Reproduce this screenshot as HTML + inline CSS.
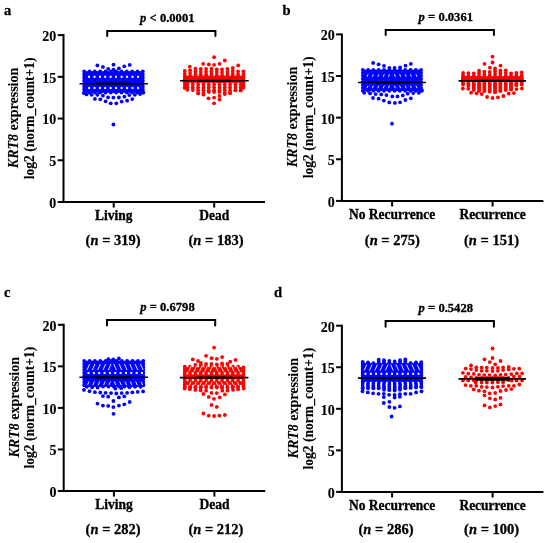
<!DOCTYPE html>
<html><head><meta charset="utf-8"><style>
html,body{margin:0;padding:0;background:#fff;width:550px;height:543px;overflow:hidden}
svg{display:block;will-change:transform}
text{font-family:"Liberation Serif", serif;font-weight:bold;fill:#000;stroke:#000;stroke-width:0}
.tk{stroke-width:0.12px}
.xl{stroke-width:0.3px}
.nl{stroke-width:0.3px}
.yl{stroke-width:0.12px}
.pv{stroke-width:0.3px}
.pl{stroke-width:0.3px}
</style></head><body>
<svg width="550" height="543" viewBox="0 0 550 543">
<rect width="550" height="543" fill="#fff"/>
<g fill="#0000ff"><circle cx="84.20" cy="71.50" r="1.9"/><circle cx="89.53" cy="71.50" r="1.9"/><circle cx="94.85" cy="71.50" r="1.9"/><circle cx="100.18" cy="71.50" r="1.9"/><circle cx="105.51" cy="71.50" r="1.9"/><circle cx="110.84" cy="71.50" r="1.9"/><circle cx="116.16" cy="71.50" r="1.9"/><circle cx="121.49" cy="71.50" r="1.9"/><circle cx="126.82" cy="71.50" r="1.9"/><circle cx="132.15" cy="71.50" r="1.9"/><circle cx="137.47" cy="71.50" r="1.9"/><circle cx="142.80" cy="71.50" r="1.9"/><circle cx="86.87" cy="73.00" r="1.9"/><circle cx="92.19" cy="73.00" r="1.9"/><circle cx="97.52" cy="73.00" r="1.9"/><circle cx="102.85" cy="73.00" r="1.9"/><circle cx="108.17" cy="73.00" r="1.9"/><circle cx="113.50" cy="73.00" r="1.9"/><circle cx="118.83" cy="73.00" r="1.9"/><circle cx="124.15" cy="73.00" r="1.9"/><circle cx="129.48" cy="73.00" r="1.9"/><circle cx="134.81" cy="73.00" r="1.9"/><circle cx="140.14" cy="73.00" r="1.9"/><circle cx="84.20" cy="74.50" r="1.9"/><circle cx="89.53" cy="74.50" r="1.9"/><circle cx="94.85" cy="74.50" r="1.9"/><circle cx="100.18" cy="74.50" r="1.9"/><circle cx="105.51" cy="74.50" r="1.9"/><circle cx="110.84" cy="74.50" r="1.9"/><circle cx="116.16" cy="74.50" r="1.9"/><circle cx="121.49" cy="74.50" r="1.9"/><circle cx="126.82" cy="74.50" r="1.9"/><circle cx="132.15" cy="74.50" r="1.9"/><circle cx="137.47" cy="74.50" r="1.9"/><circle cx="142.80" cy="74.50" r="1.9"/><circle cx="86.87" cy="76.00" r="1.9"/><circle cx="92.19" cy="76.00" r="1.9"/><circle cx="97.52" cy="76.00" r="1.9"/><circle cx="102.85" cy="76.00" r="1.9"/><circle cx="108.17" cy="76.00" r="1.9"/><circle cx="113.50" cy="76.00" r="1.9"/><circle cx="118.83" cy="76.00" r="1.9"/><circle cx="124.15" cy="76.00" r="1.9"/><circle cx="129.48" cy="76.00" r="1.9"/><circle cx="134.81" cy="76.00" r="1.9"/><circle cx="140.14" cy="76.00" r="1.9"/><circle cx="84.20" cy="77.50" r="1.9"/><circle cx="89.53" cy="77.50" r="1.9"/><circle cx="94.85" cy="77.50" r="1.9"/><circle cx="100.18" cy="77.50" r="1.9"/><circle cx="105.51" cy="77.50" r="1.9"/><circle cx="110.84" cy="77.50" r="1.9"/><circle cx="116.16" cy="77.50" r="1.9"/><circle cx="121.49" cy="77.50" r="1.9"/><circle cx="126.82" cy="77.50" r="1.9"/><circle cx="132.15" cy="77.50" r="1.9"/><circle cx="137.47" cy="77.50" r="1.9"/><circle cx="142.80" cy="77.50" r="1.9"/><circle cx="86.87" cy="79.00" r="1.9"/><circle cx="92.19" cy="79.00" r="1.9"/><circle cx="97.52" cy="79.00" r="1.9"/><circle cx="102.85" cy="79.00" r="1.9"/><circle cx="108.17" cy="79.00" r="1.9"/><circle cx="113.50" cy="79.00" r="1.9"/><circle cx="118.83" cy="79.00" r="1.9"/><circle cx="124.15" cy="79.00" r="1.9"/><circle cx="129.48" cy="79.00" r="1.9"/><circle cx="134.81" cy="79.00" r="1.9"/><circle cx="140.14" cy="79.00" r="1.9"/><circle cx="84.20" cy="80.50" r="1.9"/><circle cx="89.53" cy="80.50" r="1.9"/><circle cx="94.85" cy="80.50" r="1.9"/><circle cx="100.18" cy="80.50" r="1.9"/><circle cx="105.51" cy="80.50" r="1.9"/><circle cx="110.84" cy="80.50" r="1.9"/><circle cx="116.16" cy="80.50" r="1.9"/><circle cx="121.49" cy="80.50" r="1.9"/><circle cx="126.82" cy="80.50" r="1.9"/><circle cx="132.15" cy="80.50" r="1.9"/><circle cx="137.47" cy="80.50" r="1.9"/><circle cx="142.80" cy="80.50" r="1.9"/><circle cx="86.87" cy="82.00" r="1.9"/><circle cx="92.19" cy="82.00" r="1.9"/><circle cx="97.52" cy="82.00" r="1.9"/><circle cx="102.85" cy="82.00" r="1.9"/><circle cx="108.17" cy="82.00" r="1.9"/><circle cx="113.50" cy="82.00" r="1.9"/><circle cx="118.83" cy="82.00" r="1.9"/><circle cx="124.15" cy="82.00" r="1.9"/><circle cx="129.48" cy="82.00" r="1.9"/><circle cx="134.81" cy="82.00" r="1.9"/><circle cx="140.14" cy="82.00" r="1.9"/><circle cx="84.20" cy="83.50" r="1.9"/><circle cx="89.53" cy="83.50" r="1.9"/><circle cx="94.85" cy="83.50" r="1.9"/><circle cx="100.18" cy="83.50" r="1.9"/><circle cx="105.51" cy="83.50" r="1.9"/><circle cx="110.84" cy="83.50" r="1.9"/><circle cx="116.16" cy="83.50" r="1.9"/><circle cx="121.49" cy="83.50" r="1.9"/><circle cx="126.82" cy="83.50" r="1.9"/><circle cx="132.15" cy="83.50" r="1.9"/><circle cx="137.47" cy="83.50" r="1.9"/><circle cx="142.80" cy="83.50" r="1.9"/><circle cx="86.87" cy="85.00" r="1.9"/><circle cx="92.19" cy="85.00" r="1.9"/><circle cx="97.52" cy="85.00" r="1.9"/><circle cx="102.85" cy="85.00" r="1.9"/><circle cx="108.17" cy="85.00" r="1.9"/><circle cx="113.50" cy="85.00" r="1.9"/><circle cx="118.83" cy="85.00" r="1.9"/><circle cx="124.15" cy="85.00" r="1.9"/><circle cx="129.48" cy="85.00" r="1.9"/><circle cx="134.81" cy="85.00" r="1.9"/><circle cx="140.14" cy="85.00" r="1.9"/><circle cx="84.20" cy="86.50" r="1.9"/><circle cx="89.53" cy="86.50" r="1.9"/><circle cx="94.85" cy="86.50" r="1.9"/><circle cx="100.18" cy="86.50" r="1.9"/><circle cx="105.51" cy="86.50" r="1.9"/><circle cx="110.84" cy="86.50" r="1.9"/><circle cx="116.16" cy="86.50" r="1.9"/><circle cx="121.49" cy="86.50" r="1.9"/><circle cx="126.82" cy="86.50" r="1.9"/><circle cx="132.15" cy="86.50" r="1.9"/><circle cx="137.47" cy="86.50" r="1.9"/><circle cx="142.80" cy="86.50" r="1.9"/><circle cx="86.87" cy="88.00" r="1.9"/><circle cx="92.19" cy="88.00" r="1.9"/><circle cx="97.52" cy="88.00" r="1.9"/><circle cx="102.85" cy="88.00" r="1.9"/><circle cx="108.17" cy="88.00" r="1.9"/><circle cx="113.50" cy="88.00" r="1.9"/><circle cx="118.83" cy="88.00" r="1.9"/><circle cx="124.15" cy="88.00" r="1.9"/><circle cx="129.48" cy="88.00" r="1.9"/><circle cx="134.81" cy="88.00" r="1.9"/><circle cx="140.14" cy="88.00" r="1.9"/><circle cx="84.20" cy="89.50" r="1.9"/><circle cx="89.53" cy="89.50" r="1.9"/><circle cx="94.85" cy="89.50" r="1.9"/><circle cx="100.18" cy="89.50" r="1.9"/><circle cx="105.51" cy="89.50" r="1.9"/><circle cx="110.84" cy="89.50" r="1.9"/><circle cx="116.16" cy="89.50" r="1.9"/><circle cx="121.49" cy="89.50" r="1.9"/><circle cx="126.82" cy="89.50" r="1.9"/><circle cx="132.15" cy="89.50" r="1.9"/><circle cx="137.47" cy="89.50" r="1.9"/><circle cx="142.80" cy="89.50" r="1.9"/><circle cx="86.87" cy="91.00" r="1.9"/><circle cx="92.19" cy="91.00" r="1.9"/><circle cx="97.52" cy="91.00" r="1.9"/><circle cx="102.85" cy="91.00" r="1.9"/><circle cx="108.17" cy="91.00" r="1.9"/><circle cx="113.50" cy="91.00" r="1.9"/><circle cx="118.83" cy="91.00" r="1.9"/><circle cx="124.15" cy="91.00" r="1.9"/><circle cx="129.48" cy="91.00" r="1.9"/><circle cx="134.81" cy="91.00" r="1.9"/><circle cx="140.14" cy="91.00" r="1.9"/><circle cx="84.20" cy="92.50" r="1.9"/><circle cx="89.53" cy="92.50" r="1.9"/><circle cx="94.85" cy="92.50" r="1.9"/><circle cx="100.18" cy="92.50" r="1.9"/><circle cx="105.51" cy="92.50" r="1.9"/><circle cx="110.84" cy="92.50" r="1.9"/><circle cx="116.16" cy="92.50" r="1.9"/><circle cx="121.49" cy="92.50" r="1.9"/><circle cx="126.82" cy="92.50" r="1.9"/><circle cx="132.15" cy="92.50" r="1.9"/><circle cx="137.47" cy="92.50" r="1.9"/><circle cx="142.80" cy="92.50" r="1.9"/><circle cx="113.50" cy="69.60" r="1.9"/><circle cx="97.40" cy="65.40" r="1.9"/><circle cx="102.90" cy="66.90" r="1.9"/><circle cx="108.20" cy="68.80" r="1.9"/><circle cx="113.50" cy="64.70" r="1.9"/><circle cx="118.90" cy="68.50" r="1.9"/><circle cx="124.30" cy="66.30" r="1.9"/><circle cx="129.70" cy="64.90" r="1.9"/><circle cx="83.90" cy="93.10" r="1.9"/><circle cx="86.50" cy="94.40" r="1.9"/><circle cx="91.70" cy="94.80" r="1.9"/><circle cx="97.30" cy="94.80" r="1.9"/><circle cx="102.90" cy="95.70" r="1.9"/><circle cx="129.30" cy="95.10" r="1.9"/><circle cx="134.90" cy="94.80" r="1.9"/><circle cx="140.10" cy="94.10" r="1.9"/><circle cx="143.40" cy="92.50" r="1.9"/><circle cx="94.90" cy="98.90" r="1.9"/><circle cx="100.30" cy="99.30" r="1.9"/><circle cx="105.60" cy="101.30" r="1.9"/><circle cx="110.70" cy="103.30" r="1.9"/><circle cx="108.10" cy="97.40" r="1.9"/><circle cx="113.40" cy="97.60" r="1.9"/><circle cx="118.90" cy="97.50" r="1.9"/><circle cx="124.40" cy="96.70" r="1.9"/><circle cx="132.30" cy="99.10" r="1.9"/><circle cx="127.10" cy="100.70" r="1.9"/><circle cx="121.70" cy="101.60" r="1.9"/><circle cx="116.30" cy="103.30" r="1.9"/><circle cx="113.40" cy="124.50" r="1.9"/></g>
<g fill="#fff" stroke="#fff" stroke-width="0.9"><rect x="88.60" y="76.20" width="1.0" height="1.2"/><rect x="94.00" y="76.20" width="1.0" height="1.2"/><rect x="99.40" y="76.20" width="1.0" height="1.2"/><rect x="104.70" y="76.20" width="1.0" height="1.2"/><rect x="110.10" y="76.20" width="1.0" height="1.2"/><rect x="115.50" y="76.20" width="1.0" height="1.2"/><rect x="121.10" y="76.20" width="1.0" height="1.2"/><rect x="126.60" y="76.20" width="1.0" height="1.2"/><rect x="132.00" y="76.20" width="1.0" height="1.2"/><rect x="137.50" y="76.20" width="1.0" height="1.2"/><rect x="88.60" y="87.40" width="1.0" height="1.2"/><rect x="94.00" y="87.40" width="1.0" height="1.2"/><rect x="99.40" y="87.40" width="1.0" height="1.2"/><rect x="104.70" y="87.40" width="1.0" height="1.2"/><rect x="110.10" y="87.40" width="1.0" height="1.2"/><rect x="115.50" y="87.40" width="1.0" height="1.2"/><rect x="121.10" y="87.40" width="1.0" height="1.2"/><rect x="126.60" y="87.40" width="1.0" height="1.2"/><rect x="132.00" y="87.40" width="1.0" height="1.2"/><rect x="137.50" y="87.40" width="1.0" height="1.2"/></g>
<g fill="#0000ff"><circle cx="362.80" cy="69.80" r="1.9"/><circle cx="368.10" cy="69.80" r="1.9"/><circle cx="373.40" cy="69.80" r="1.9"/><circle cx="378.70" cy="69.80" r="1.9"/><circle cx="384.00" cy="69.80" r="1.9"/><circle cx="389.30" cy="69.80" r="1.9"/><circle cx="394.60" cy="69.80" r="1.9"/><circle cx="399.90" cy="69.80" r="1.9"/><circle cx="405.20" cy="69.80" r="1.9"/><circle cx="410.50" cy="69.80" r="1.9"/><circle cx="415.80" cy="69.80" r="1.9"/><circle cx="421.10" cy="69.80" r="1.9"/><circle cx="365.47" cy="71.30" r="1.9"/><circle cx="370.76" cy="71.30" r="1.9"/><circle cx="376.06" cy="71.30" r="1.9"/><circle cx="381.36" cy="71.30" r="1.9"/><circle cx="386.65" cy="71.30" r="1.9"/><circle cx="391.95" cy="71.30" r="1.9"/><circle cx="397.25" cy="71.30" r="1.9"/><circle cx="402.54" cy="71.30" r="1.9"/><circle cx="407.84" cy="71.30" r="1.9"/><circle cx="413.14" cy="71.30" r="1.9"/><circle cx="418.44" cy="71.30" r="1.9"/><circle cx="362.80" cy="72.80" r="1.9"/><circle cx="368.10" cy="72.80" r="1.9"/><circle cx="373.40" cy="72.80" r="1.9"/><circle cx="378.70" cy="72.80" r="1.9"/><circle cx="384.00" cy="72.80" r="1.9"/><circle cx="389.30" cy="72.80" r="1.9"/><circle cx="394.60" cy="72.80" r="1.9"/><circle cx="399.90" cy="72.80" r="1.9"/><circle cx="405.20" cy="72.80" r="1.9"/><circle cx="410.50" cy="72.80" r="1.9"/><circle cx="415.80" cy="72.80" r="1.9"/><circle cx="421.10" cy="72.80" r="1.9"/><circle cx="365.47" cy="74.30" r="1.9"/><circle cx="370.76" cy="74.30" r="1.9"/><circle cx="376.06" cy="74.30" r="1.9"/><circle cx="381.36" cy="74.30" r="1.9"/><circle cx="386.65" cy="74.30" r="1.9"/><circle cx="391.95" cy="74.30" r="1.9"/><circle cx="397.25" cy="74.30" r="1.9"/><circle cx="402.54" cy="74.30" r="1.9"/><circle cx="407.84" cy="74.30" r="1.9"/><circle cx="413.14" cy="74.30" r="1.9"/><circle cx="418.44" cy="74.30" r="1.9"/><circle cx="362.80" cy="75.80" r="1.9"/><circle cx="368.10" cy="75.80" r="1.9"/><circle cx="373.40" cy="75.80" r="1.9"/><circle cx="378.70" cy="75.80" r="1.9"/><circle cx="384.00" cy="75.80" r="1.9"/><circle cx="389.30" cy="75.80" r="1.9"/><circle cx="394.60" cy="75.80" r="1.9"/><circle cx="399.90" cy="75.80" r="1.9"/><circle cx="405.20" cy="75.80" r="1.9"/><circle cx="410.50" cy="75.80" r="1.9"/><circle cx="415.80" cy="75.80" r="1.9"/><circle cx="421.10" cy="75.80" r="1.9"/><circle cx="365.47" cy="77.30" r="1.9"/><circle cx="370.76" cy="77.30" r="1.9"/><circle cx="376.06" cy="77.30" r="1.9"/><circle cx="381.36" cy="77.30" r="1.9"/><circle cx="386.65" cy="77.30" r="1.9"/><circle cx="391.95" cy="77.30" r="1.9"/><circle cx="397.25" cy="77.30" r="1.9"/><circle cx="402.54" cy="77.30" r="1.9"/><circle cx="407.84" cy="77.30" r="1.9"/><circle cx="413.14" cy="77.30" r="1.9"/><circle cx="418.44" cy="77.30" r="1.9"/><circle cx="362.80" cy="78.80" r="1.9"/><circle cx="368.10" cy="78.80" r="1.9"/><circle cx="373.40" cy="78.80" r="1.9"/><circle cx="378.70" cy="78.80" r="1.9"/><circle cx="384.00" cy="78.80" r="1.9"/><circle cx="389.30" cy="78.80" r="1.9"/><circle cx="394.60" cy="78.80" r="1.9"/><circle cx="399.90" cy="78.80" r="1.9"/><circle cx="405.20" cy="78.80" r="1.9"/><circle cx="410.50" cy="78.80" r="1.9"/><circle cx="415.80" cy="78.80" r="1.9"/><circle cx="421.10" cy="78.80" r="1.9"/><circle cx="365.47" cy="80.30" r="1.9"/><circle cx="370.76" cy="80.30" r="1.9"/><circle cx="376.06" cy="80.30" r="1.9"/><circle cx="381.36" cy="80.30" r="1.9"/><circle cx="386.65" cy="80.30" r="1.9"/><circle cx="391.95" cy="80.30" r="1.9"/><circle cx="397.25" cy="80.30" r="1.9"/><circle cx="402.54" cy="80.30" r="1.9"/><circle cx="407.84" cy="80.30" r="1.9"/><circle cx="413.14" cy="80.30" r="1.9"/><circle cx="418.44" cy="80.30" r="1.9"/><circle cx="362.80" cy="81.80" r="1.9"/><circle cx="368.10" cy="81.80" r="1.9"/><circle cx="373.40" cy="81.80" r="1.9"/><circle cx="378.70" cy="81.80" r="1.9"/><circle cx="384.00" cy="81.80" r="1.9"/><circle cx="389.30" cy="81.80" r="1.9"/><circle cx="394.60" cy="81.80" r="1.9"/><circle cx="399.90" cy="81.80" r="1.9"/><circle cx="405.20" cy="81.80" r="1.9"/><circle cx="410.50" cy="81.80" r="1.9"/><circle cx="415.80" cy="81.80" r="1.9"/><circle cx="421.10" cy="81.80" r="1.9"/><circle cx="365.47" cy="83.30" r="1.9"/><circle cx="370.76" cy="83.30" r="1.9"/><circle cx="376.06" cy="83.30" r="1.9"/><circle cx="381.36" cy="83.30" r="1.9"/><circle cx="386.65" cy="83.30" r="1.9"/><circle cx="391.95" cy="83.30" r="1.9"/><circle cx="397.25" cy="83.30" r="1.9"/><circle cx="402.54" cy="83.30" r="1.9"/><circle cx="407.84" cy="83.30" r="1.9"/><circle cx="413.14" cy="83.30" r="1.9"/><circle cx="418.44" cy="83.30" r="1.9"/><circle cx="362.80" cy="84.80" r="1.9"/><circle cx="368.10" cy="84.80" r="1.9"/><circle cx="373.40" cy="84.80" r="1.9"/><circle cx="378.70" cy="84.80" r="1.9"/><circle cx="384.00" cy="84.80" r="1.9"/><circle cx="389.30" cy="84.80" r="1.9"/><circle cx="394.60" cy="84.80" r="1.9"/><circle cx="399.90" cy="84.80" r="1.9"/><circle cx="405.20" cy="84.80" r="1.9"/><circle cx="410.50" cy="84.80" r="1.9"/><circle cx="415.80" cy="84.80" r="1.9"/><circle cx="421.10" cy="84.80" r="1.9"/><circle cx="365.47" cy="86.30" r="1.9"/><circle cx="370.76" cy="86.30" r="1.9"/><circle cx="376.06" cy="86.30" r="1.9"/><circle cx="381.36" cy="86.30" r="1.9"/><circle cx="386.65" cy="86.30" r="1.9"/><circle cx="391.95" cy="86.30" r="1.9"/><circle cx="397.25" cy="86.30" r="1.9"/><circle cx="402.54" cy="86.30" r="1.9"/><circle cx="407.84" cy="86.30" r="1.9"/><circle cx="413.14" cy="86.30" r="1.9"/><circle cx="418.44" cy="86.30" r="1.9"/><circle cx="362.80" cy="87.80" r="1.9"/><circle cx="368.10" cy="87.80" r="1.9"/><circle cx="373.40" cy="87.80" r="1.9"/><circle cx="378.70" cy="87.80" r="1.9"/><circle cx="384.00" cy="87.80" r="1.9"/><circle cx="389.30" cy="87.80" r="1.9"/><circle cx="394.60" cy="87.80" r="1.9"/><circle cx="399.90" cy="87.80" r="1.9"/><circle cx="405.20" cy="87.80" r="1.9"/><circle cx="410.50" cy="87.80" r="1.9"/><circle cx="415.80" cy="87.80" r="1.9"/><circle cx="421.10" cy="87.80" r="1.9"/><circle cx="365.47" cy="89.30" r="1.9"/><circle cx="370.76" cy="89.30" r="1.9"/><circle cx="376.06" cy="89.30" r="1.9"/><circle cx="381.36" cy="89.30" r="1.9"/><circle cx="386.65" cy="89.30" r="1.9"/><circle cx="391.95" cy="89.30" r="1.9"/><circle cx="397.25" cy="89.30" r="1.9"/><circle cx="402.54" cy="89.30" r="1.9"/><circle cx="407.84" cy="89.30" r="1.9"/><circle cx="413.14" cy="89.30" r="1.9"/><circle cx="418.44" cy="89.30" r="1.9"/><circle cx="362.80" cy="90.80" r="1.9"/><circle cx="368.10" cy="90.80" r="1.9"/><circle cx="373.40" cy="90.80" r="1.9"/><circle cx="378.70" cy="90.80" r="1.9"/><circle cx="384.00" cy="90.80" r="1.9"/><circle cx="389.30" cy="90.80" r="1.9"/><circle cx="394.60" cy="90.80" r="1.9"/><circle cx="399.90" cy="90.80" r="1.9"/><circle cx="405.20" cy="90.80" r="1.9"/><circle cx="410.50" cy="90.80" r="1.9"/><circle cx="415.80" cy="90.80" r="1.9"/><circle cx="421.10" cy="90.80" r="1.9"/><circle cx="373.10" cy="62.90" r="1.9"/><circle cx="378.60" cy="64.30" r="1.9"/><circle cx="384.00" cy="65.90" r="1.9"/><circle cx="389.40" cy="67.80" r="1.9"/><circle cx="394.60" cy="67.80" r="1.9"/><circle cx="400.10" cy="67.50" r="1.9"/><circle cx="405.50" cy="65.70" r="1.9"/><circle cx="410.80" cy="63.80" r="1.9"/><circle cx="364.20" cy="92.80" r="1.9"/><circle cx="370.10" cy="93.40" r="1.9"/><circle cx="375.60" cy="94.10" r="1.9"/><circle cx="381.20" cy="94.40" r="1.9"/><circle cx="386.40" cy="95.10" r="1.9"/><circle cx="407.70" cy="93.70" r="1.9"/><circle cx="413.20" cy="93.10" r="1.9"/><circle cx="418.80" cy="92.80" r="1.9"/><circle cx="422.00" cy="90.50" r="1.9"/><circle cx="373.00" cy="98.00" r="1.9"/><circle cx="378.60" cy="98.70" r="1.9"/><circle cx="383.80" cy="100.60" r="1.9"/><circle cx="389.30" cy="102.40" r="1.9"/><circle cx="392.30" cy="96.40" r="1.9"/><circle cx="397.50" cy="96.40" r="1.9"/><circle cx="402.80" cy="95.40" r="1.9"/><circle cx="410.80" cy="98.30" r="1.9"/><circle cx="405.40" cy="100.00" r="1.9"/><circle cx="400.10" cy="102.30" r="1.9"/><circle cx="394.90" cy="102.90" r="1.9"/><circle cx="392.00" cy="123.70" r="1.9"/></g>
<g fill="#fff" stroke="#fff" stroke-width="0.9"><path d="M366.95 76.76L368.05 74.24"/><path d="M372.35 76.76L373.45 74.24"/><path d="M377.75 76.76L378.85 74.24"/><path d="M383.25 76.76L384.35 74.24"/><path d="M388.45 76.76L389.55 74.24"/><path d="M395.45 76.76L394.35 74.24"/><path d="M400.65 76.76L399.55 74.24"/><path d="M406.25 76.76L405.15 74.24"/><path d="M411.45 76.76L410.35 74.24"/><path d="M417.05 76.76L415.95 74.24"/><path d="M366.95 88.16L368.05 85.64"/><path d="M372.35 88.16L373.45 85.64"/><path d="M377.75 88.16L378.85 85.64"/><path d="M383.25 88.16L384.35 85.64"/><path d="M388.45 88.16L389.55 85.64"/><path d="M395.45 88.16L394.35 85.64"/><path d="M400.65 88.16L399.55 85.64"/><path d="M406.25 88.16L405.15 85.64"/><path d="M411.45 88.16L410.35 85.64"/><path d="M417.05 88.16L415.95 85.64"/></g>
<g fill="#ff0000"><circle cx="463.08" cy="72.90" r="1.9"/><circle cx="463.08" cy="75.70" r="1.9"/><circle cx="463.08" cy="78.50" r="1.9"/><circle cx="463.08" cy="79.00" r="1.9"/><circle cx="468.41" cy="73.10" r="1.9"/><circle cx="468.41" cy="75.90" r="1.9"/><circle cx="468.41" cy="78.70" r="1.9"/><circle cx="468.41" cy="79.00" r="1.9"/><circle cx="473.75" cy="73.30" r="1.9"/><circle cx="473.75" cy="76.10" r="1.9"/><circle cx="473.75" cy="78.90" r="1.9"/><circle cx="473.75" cy="79.00" r="1.9"/><circle cx="479.07" cy="70.70" r="1.9"/><circle cx="479.07" cy="73.50" r="1.9"/><circle cx="479.07" cy="76.30" r="1.9"/><circle cx="479.07" cy="79.00" r="1.9"/><circle cx="484.40" cy="71.60" r="1.9"/><circle cx="484.40" cy="74.40" r="1.9"/><circle cx="484.40" cy="77.20" r="1.9"/><circle cx="484.40" cy="79.00" r="1.9"/><circle cx="489.73" cy="72.00" r="1.9"/><circle cx="489.73" cy="74.80" r="1.9"/><circle cx="489.73" cy="77.60" r="1.9"/><circle cx="489.73" cy="79.00" r="1.9"/><circle cx="495.06" cy="68.40" r="1.9"/><circle cx="495.06" cy="71.20" r="1.9"/><circle cx="495.06" cy="74.00" r="1.9"/><circle cx="495.06" cy="76.80" r="1.9"/><circle cx="495.06" cy="79.00" r="1.9"/><circle cx="500.39" cy="70.70" r="1.9"/><circle cx="500.39" cy="73.50" r="1.9"/><circle cx="500.39" cy="76.30" r="1.9"/><circle cx="500.39" cy="79.00" r="1.9"/><circle cx="505.72" cy="70.30" r="1.9"/><circle cx="505.72" cy="73.10" r="1.9"/><circle cx="505.72" cy="75.90" r="1.9"/><circle cx="505.72" cy="78.70" r="1.9"/><circle cx="505.72" cy="79.00" r="1.9"/><circle cx="511.05" cy="73.30" r="1.9"/><circle cx="511.05" cy="76.10" r="1.9"/><circle cx="511.05" cy="78.90" r="1.9"/><circle cx="511.05" cy="79.00" r="1.9"/><circle cx="516.38" cy="72.90" r="1.9"/><circle cx="516.38" cy="75.70" r="1.9"/><circle cx="516.38" cy="78.50" r="1.9"/><circle cx="516.38" cy="79.00" r="1.9"/><circle cx="521.72" cy="72.30" r="1.9"/><circle cx="521.72" cy="75.10" r="1.9"/><circle cx="521.72" cy="77.90" r="1.9"/><circle cx="521.72" cy="79.00" r="1.9"/><circle cx="463.08" cy="80.00" r="1.9"/><circle cx="463.08" cy="81.50" r="1.9"/><circle cx="463.08" cy="83.00" r="1.9"/><circle cx="463.08" cy="84.50" r="1.9"/><circle cx="468.41" cy="80.00" r="1.9"/><circle cx="468.41" cy="81.50" r="1.9"/><circle cx="468.41" cy="83.00" r="1.9"/><circle cx="468.41" cy="84.50" r="1.9"/><circle cx="468.41" cy="86.00" r="1.9"/><circle cx="473.75" cy="80.00" r="1.9"/><circle cx="473.75" cy="81.50" r="1.9"/><circle cx="473.75" cy="83.00" r="1.9"/><circle cx="473.75" cy="84.50" r="1.9"/><circle cx="473.75" cy="86.00" r="1.9"/><circle cx="473.75" cy="87.50" r="1.9"/><circle cx="473.75" cy="89.00" r="1.9"/><circle cx="473.75" cy="90.10" r="1.9"/><circle cx="479.07" cy="80.00" r="1.9"/><circle cx="479.07" cy="81.50" r="1.9"/><circle cx="479.07" cy="83.00" r="1.9"/><circle cx="479.07" cy="84.50" r="1.9"/><circle cx="479.07" cy="86.00" r="1.9"/><circle cx="479.07" cy="87.50" r="1.9"/><circle cx="479.07" cy="89.00" r="1.9"/><circle cx="479.07" cy="90.50" r="1.9"/><circle cx="479.07" cy="90.80" r="1.9"/><circle cx="484.40" cy="80.00" r="1.9"/><circle cx="484.40" cy="81.50" r="1.9"/><circle cx="484.40" cy="83.00" r="1.9"/><circle cx="484.40" cy="84.50" r="1.9"/><circle cx="484.40" cy="86.00" r="1.9"/><circle cx="484.40" cy="87.50" r="1.9"/><circle cx="484.40" cy="89.00" r="1.9"/><circle cx="484.40" cy="90.50" r="1.9"/><circle cx="484.40" cy="91.10" r="1.9"/><circle cx="489.73" cy="80.00" r="1.9"/><circle cx="489.73" cy="81.50" r="1.9"/><circle cx="489.73" cy="83.00" r="1.9"/><circle cx="489.73" cy="84.50" r="1.9"/><circle cx="489.73" cy="86.00" r="1.9"/><circle cx="489.73" cy="87.50" r="1.9"/><circle cx="489.73" cy="89.00" r="1.9"/><circle cx="489.73" cy="90.50" r="1.9"/><circle cx="489.73" cy="91.70" r="1.9"/><circle cx="495.06" cy="80.00" r="1.9"/><circle cx="495.06" cy="81.50" r="1.9"/><circle cx="495.06" cy="83.00" r="1.9"/><circle cx="495.06" cy="84.50" r="1.9"/><circle cx="495.06" cy="86.00" r="1.9"/><circle cx="495.06" cy="87.50" r="1.9"/><circle cx="495.06" cy="89.00" r="1.9"/><circle cx="495.06" cy="90.50" r="1.9"/><circle cx="495.06" cy="92.00" r="1.9"/><circle cx="495.06" cy="92.10" r="1.9"/><circle cx="500.39" cy="80.00" r="1.9"/><circle cx="500.39" cy="81.50" r="1.9"/><circle cx="500.39" cy="83.00" r="1.9"/><circle cx="500.39" cy="84.50" r="1.9"/><circle cx="500.39" cy="86.00" r="1.9"/><circle cx="500.39" cy="87.50" r="1.9"/><circle cx="500.39" cy="89.00" r="1.9"/><circle cx="500.39" cy="90.50" r="1.9"/><circle cx="500.39" cy="91.10" r="1.9"/><circle cx="505.72" cy="80.00" r="1.9"/><circle cx="505.72" cy="81.50" r="1.9"/><circle cx="505.72" cy="83.00" r="1.9"/><circle cx="505.72" cy="84.50" r="1.9"/><circle cx="505.72" cy="86.00" r="1.9"/><circle cx="505.72" cy="87.50" r="1.9"/><circle cx="505.72" cy="89.00" r="1.9"/><circle cx="505.72" cy="90.10" r="1.9"/><circle cx="511.05" cy="80.00" r="1.9"/><circle cx="511.05" cy="81.50" r="1.9"/><circle cx="511.05" cy="83.00" r="1.9"/><circle cx="511.05" cy="84.50" r="1.9"/><circle cx="511.05" cy="86.00" r="1.9"/><circle cx="511.05" cy="87.50" r="1.9"/><circle cx="511.05" cy="89.00" r="1.9"/><circle cx="511.05" cy="89.50" r="1.9"/><circle cx="516.38" cy="80.00" r="1.9"/><circle cx="516.38" cy="81.50" r="1.9"/><circle cx="516.38" cy="83.00" r="1.9"/><circle cx="516.38" cy="84.50" r="1.9"/><circle cx="516.38" cy="85.20" r="1.9"/><circle cx="521.72" cy="80.00" r="1.9"/><circle cx="521.72" cy="81.50" r="1.9"/><circle cx="521.72" cy="83.00" r="1.9"/><circle cx="521.72" cy="84.50" r="1.9"/><circle cx="463.25" cy="76.60" r="1.9"/><circle cx="468.55" cy="76.60" r="1.9"/><circle cx="473.85" cy="76.60" r="1.9"/><circle cx="479.15" cy="76.60" r="1.9"/><circle cx="484.45" cy="76.60" r="1.9"/><circle cx="489.75" cy="76.60" r="1.9"/><circle cx="495.05" cy="76.60" r="1.9"/><circle cx="500.35" cy="76.60" r="1.9"/><circle cx="505.65" cy="76.60" r="1.9"/><circle cx="510.95" cy="76.60" r="1.9"/><circle cx="516.25" cy="76.60" r="1.9"/><circle cx="521.55" cy="76.60" r="1.9"/><circle cx="465.92" cy="77.80" r="1.9"/><circle cx="471.21" cy="77.80" r="1.9"/><circle cx="476.51" cy="77.80" r="1.9"/><circle cx="481.81" cy="77.80" r="1.9"/><circle cx="487.10" cy="77.80" r="1.9"/><circle cx="492.40" cy="77.80" r="1.9"/><circle cx="497.70" cy="77.80" r="1.9"/><circle cx="502.99" cy="77.80" r="1.9"/><circle cx="508.29" cy="77.80" r="1.9"/><circle cx="513.59" cy="77.80" r="1.9"/><circle cx="518.88" cy="77.80" r="1.9"/><circle cx="463.25" cy="79.00" r="1.9"/><circle cx="468.55" cy="79.00" r="1.9"/><circle cx="473.85" cy="79.00" r="1.9"/><circle cx="479.15" cy="79.00" r="1.9"/><circle cx="484.45" cy="79.00" r="1.9"/><circle cx="489.75" cy="79.00" r="1.9"/><circle cx="495.05" cy="79.00" r="1.9"/><circle cx="500.35" cy="79.00" r="1.9"/><circle cx="505.65" cy="79.00" r="1.9"/><circle cx="510.95" cy="79.00" r="1.9"/><circle cx="516.25" cy="79.00" r="1.9"/><circle cx="521.55" cy="79.00" r="1.9"/><circle cx="465.92" cy="80.20" r="1.9"/><circle cx="471.21" cy="80.20" r="1.9"/><circle cx="476.51" cy="80.20" r="1.9"/><circle cx="481.81" cy="80.20" r="1.9"/><circle cx="487.10" cy="80.20" r="1.9"/><circle cx="492.40" cy="80.20" r="1.9"/><circle cx="497.70" cy="80.20" r="1.9"/><circle cx="502.99" cy="80.20" r="1.9"/><circle cx="508.29" cy="80.20" r="1.9"/><circle cx="513.59" cy="80.20" r="1.9"/><circle cx="518.88" cy="80.20" r="1.9"/><circle cx="492.50" cy="56.60" r="1.9"/><circle cx="492.50" cy="62.50" r="1.9"/><circle cx="484.50" cy="63.80" r="1.9"/><circle cx="500.50" cy="65.60" r="1.9"/><circle cx="489.90" cy="67.70" r="1.9"/><circle cx="471.10" cy="92.70" r="1.9"/><circle cx="476.50" cy="93.40" r="1.9"/><circle cx="481.70" cy="94.00" r="1.9"/><circle cx="487.10" cy="97.00" r="1.9"/><circle cx="492.50" cy="98.00" r="1.9"/><circle cx="497.90" cy="97.30" r="1.9"/><circle cx="503.40" cy="96.00" r="1.9"/><circle cx="508.70" cy="93.70" r="1.9"/><circle cx="513.90" cy="93.10" r="1.9"/><circle cx="462.90" cy="88.50" r="1.9"/><circle cx="468.30" cy="88.80" r="1.9"/><circle cx="516.50" cy="89.10" r="1.9"/><circle cx="521.90" cy="88.50" r="1.9"/></g>
<g fill="#ff0000"><circle cx="184.78" cy="71.00" r="1.9"/><circle cx="184.78" cy="73.80" r="1.9"/><circle cx="184.78" cy="76.60" r="1.9"/><circle cx="184.78" cy="79.40" r="1.9"/><circle cx="184.78" cy="82.20" r="1.9"/><circle cx="184.78" cy="85.00" r="1.9"/><circle cx="184.78" cy="87.80" r="1.9"/><circle cx="184.78" cy="87.80" r="1.9"/><circle cx="190.12" cy="70.30" r="1.9"/><circle cx="190.12" cy="73.10" r="1.9"/><circle cx="190.12" cy="75.90" r="1.9"/><circle cx="190.12" cy="78.70" r="1.9"/><circle cx="190.12" cy="81.00" r="1.9"/><circle cx="195.44" cy="68.70" r="1.9"/><circle cx="195.44" cy="71.50" r="1.9"/><circle cx="195.44" cy="74.30" r="1.9"/><circle cx="195.44" cy="77.10" r="1.9"/><circle cx="195.44" cy="79.90" r="1.9"/><circle cx="195.44" cy="81.00" r="1.9"/><circle cx="200.78" cy="69.00" r="1.9"/><circle cx="200.78" cy="71.80" r="1.9"/><circle cx="200.78" cy="74.60" r="1.9"/><circle cx="200.78" cy="77.40" r="1.9"/><circle cx="200.78" cy="80.20" r="1.9"/><circle cx="200.78" cy="81.00" r="1.9"/><circle cx="206.10" cy="69.00" r="1.9"/><circle cx="206.10" cy="71.80" r="1.9"/><circle cx="206.10" cy="74.60" r="1.9"/><circle cx="206.10" cy="77.40" r="1.9"/><circle cx="206.10" cy="80.20" r="1.9"/><circle cx="206.10" cy="81.00" r="1.9"/><circle cx="211.44" cy="68.60" r="1.9"/><circle cx="211.44" cy="71.40" r="1.9"/><circle cx="211.44" cy="74.20" r="1.9"/><circle cx="211.44" cy="77.00" r="1.9"/><circle cx="211.44" cy="79.80" r="1.9"/><circle cx="211.44" cy="81.00" r="1.9"/><circle cx="216.76" cy="69.30" r="1.9"/><circle cx="216.76" cy="72.10" r="1.9"/><circle cx="216.76" cy="74.90" r="1.9"/><circle cx="216.76" cy="77.70" r="1.9"/><circle cx="216.76" cy="80.50" r="1.9"/><circle cx="216.76" cy="81.00" r="1.9"/><circle cx="222.09" cy="69.30" r="1.9"/><circle cx="222.09" cy="72.10" r="1.9"/><circle cx="222.09" cy="74.90" r="1.9"/><circle cx="222.09" cy="77.70" r="1.9"/><circle cx="222.09" cy="80.50" r="1.9"/><circle cx="222.09" cy="81.00" r="1.9"/><circle cx="227.42" cy="69.00" r="1.9"/><circle cx="227.42" cy="71.80" r="1.9"/><circle cx="227.42" cy="74.60" r="1.9"/><circle cx="227.42" cy="77.40" r="1.9"/><circle cx="227.42" cy="80.20" r="1.9"/><circle cx="227.42" cy="81.00" r="1.9"/><circle cx="232.75" cy="68.00" r="1.9"/><circle cx="232.75" cy="70.80" r="1.9"/><circle cx="232.75" cy="73.60" r="1.9"/><circle cx="232.75" cy="76.40" r="1.9"/><circle cx="232.75" cy="79.20" r="1.9"/><circle cx="232.75" cy="81.00" r="1.9"/><circle cx="238.08" cy="71.30" r="1.9"/><circle cx="238.08" cy="74.10" r="1.9"/><circle cx="238.08" cy="76.90" r="1.9"/><circle cx="238.08" cy="79.70" r="1.9"/><circle cx="238.08" cy="81.00" r="1.9"/><circle cx="243.41" cy="71.30" r="1.9"/><circle cx="243.41" cy="74.10" r="1.9"/><circle cx="243.41" cy="76.90" r="1.9"/><circle cx="243.41" cy="79.70" r="1.9"/><circle cx="243.41" cy="82.50" r="1.9"/><circle cx="243.41" cy="85.30" r="1.9"/><circle cx="243.41" cy="87.80" r="1.9"/><circle cx="187.45" cy="79.00" r="1.9"/><circle cx="187.45" cy="81.80" r="1.9"/><circle cx="187.45" cy="84.60" r="1.9"/><circle cx="187.45" cy="87.40" r="1.9"/><circle cx="187.45" cy="89.80" r="1.9"/><circle cx="192.78" cy="79.00" r="1.9"/><circle cx="192.78" cy="81.80" r="1.9"/><circle cx="192.78" cy="84.60" r="1.9"/><circle cx="192.78" cy="87.40" r="1.9"/><circle cx="192.78" cy="90.10" r="1.9"/><circle cx="198.11" cy="79.00" r="1.9"/><circle cx="198.11" cy="81.80" r="1.9"/><circle cx="198.11" cy="84.60" r="1.9"/><circle cx="198.11" cy="87.40" r="1.9"/><circle cx="198.11" cy="90.20" r="1.9"/><circle cx="198.11" cy="93.00" r="1.9"/><circle cx="198.11" cy="93.40" r="1.9"/><circle cx="203.44" cy="79.00" r="1.9"/><circle cx="203.44" cy="81.80" r="1.9"/><circle cx="203.44" cy="84.60" r="1.9"/><circle cx="203.44" cy="87.40" r="1.9"/><circle cx="203.44" cy="90.20" r="1.9"/><circle cx="203.44" cy="93.00" r="1.9"/><circle cx="203.44" cy="94.70" r="1.9"/><circle cx="208.77" cy="79.00" r="1.9"/><circle cx="208.77" cy="81.80" r="1.9"/><circle cx="208.77" cy="84.60" r="1.9"/><circle cx="208.77" cy="87.40" r="1.9"/><circle cx="208.77" cy="90.20" r="1.9"/><circle cx="208.77" cy="92.10" r="1.9"/><circle cx="214.10" cy="79.00" r="1.9"/><circle cx="214.10" cy="81.80" r="1.9"/><circle cx="214.10" cy="84.60" r="1.9"/><circle cx="214.10" cy="87.40" r="1.9"/><circle cx="214.10" cy="90.20" r="1.9"/><circle cx="214.10" cy="92.10" r="1.9"/><circle cx="219.43" cy="79.00" r="1.9"/><circle cx="219.43" cy="81.80" r="1.9"/><circle cx="219.43" cy="84.60" r="1.9"/><circle cx="219.43" cy="87.40" r="1.9"/><circle cx="219.43" cy="90.20" r="1.9"/><circle cx="219.43" cy="92.10" r="1.9"/><circle cx="224.76" cy="79.00" r="1.9"/><circle cx="224.76" cy="81.80" r="1.9"/><circle cx="224.76" cy="84.60" r="1.9"/><circle cx="224.76" cy="87.40" r="1.9"/><circle cx="224.76" cy="90.20" r="1.9"/><circle cx="224.76" cy="93.00" r="1.9"/><circle cx="224.76" cy="94.00" r="1.9"/><circle cx="230.09" cy="79.00" r="1.9"/><circle cx="230.09" cy="81.80" r="1.9"/><circle cx="230.09" cy="84.60" r="1.9"/><circle cx="230.09" cy="87.40" r="1.9"/><circle cx="230.09" cy="90.20" r="1.9"/><circle cx="230.09" cy="93.00" r="1.9"/><circle cx="230.09" cy="93.10" r="1.9"/><circle cx="235.42" cy="79.00" r="1.9"/><circle cx="235.42" cy="81.80" r="1.9"/><circle cx="235.42" cy="84.60" r="1.9"/><circle cx="235.42" cy="87.40" r="1.9"/><circle cx="235.42" cy="90.20" r="1.9"/><circle cx="235.42" cy="90.40" r="1.9"/><circle cx="240.75" cy="79.00" r="1.9"/><circle cx="240.75" cy="81.80" r="1.9"/><circle cx="240.75" cy="84.60" r="1.9"/><circle cx="240.75" cy="87.40" r="1.9"/><circle cx="240.75" cy="90.20" r="1.9"/><circle cx="240.75" cy="90.40" r="1.9"/><circle cx="184.95" cy="76.30" r="1.9"/><circle cx="190.25" cy="76.30" r="1.9"/><circle cx="195.55" cy="76.30" r="1.9"/><circle cx="200.85" cy="76.30" r="1.9"/><circle cx="206.15" cy="76.30" r="1.9"/><circle cx="211.45" cy="76.30" r="1.9"/><circle cx="216.75" cy="76.30" r="1.9"/><circle cx="222.05" cy="76.30" r="1.9"/><circle cx="227.35" cy="76.30" r="1.9"/><circle cx="232.65" cy="76.30" r="1.9"/><circle cx="237.95" cy="76.30" r="1.9"/><circle cx="243.25" cy="76.30" r="1.9"/><circle cx="187.61" cy="77.50" r="1.9"/><circle cx="192.91" cy="77.50" r="1.9"/><circle cx="198.21" cy="77.50" r="1.9"/><circle cx="203.51" cy="77.50" r="1.9"/><circle cx="208.80" cy="77.50" r="1.9"/><circle cx="214.10" cy="77.50" r="1.9"/><circle cx="219.40" cy="77.50" r="1.9"/><circle cx="224.69" cy="77.50" r="1.9"/><circle cx="229.99" cy="77.50" r="1.9"/><circle cx="235.29" cy="77.50" r="1.9"/><circle cx="240.59" cy="77.50" r="1.9"/><circle cx="184.95" cy="78.70" r="1.9"/><circle cx="190.25" cy="78.70" r="1.9"/><circle cx="195.55" cy="78.70" r="1.9"/><circle cx="200.85" cy="78.70" r="1.9"/><circle cx="206.15" cy="78.70" r="1.9"/><circle cx="211.45" cy="78.70" r="1.9"/><circle cx="216.75" cy="78.70" r="1.9"/><circle cx="222.05" cy="78.70" r="1.9"/><circle cx="227.35" cy="78.70" r="1.9"/><circle cx="232.65" cy="78.70" r="1.9"/><circle cx="237.95" cy="78.70" r="1.9"/><circle cx="243.25" cy="78.70" r="1.9"/><circle cx="214.10" cy="57.20" r="1.9"/><circle cx="224.80" cy="60.50" r="1.9"/><circle cx="203.20" cy="63.80" r="1.9"/><circle cx="208.80" cy="64.40" r="1.9"/><circle cx="214.10" cy="64.80" r="1.9"/><circle cx="219.50" cy="63.80" r="1.9"/><circle cx="189.80" cy="66.70" r="1.9"/><circle cx="238.20" cy="65.40" r="1.9"/><circle cx="208.50" cy="98.30" r="1.9"/><circle cx="214.10" cy="97.60" r="1.9"/><circle cx="214.10" cy="103.30" r="1.9"/><circle cx="219.50" cy="96.00" r="1.9"/><circle cx="219.50" cy="99.60" r="1.9"/></g>
<g fill="#0000ff"><circle cx="84.20" cy="361.00" r="1.9"/><circle cx="89.57" cy="361.00" r="1.9"/><circle cx="94.95" cy="361.00" r="1.9"/><circle cx="100.32" cy="361.00" r="1.9"/><circle cx="105.69" cy="361.00" r="1.9"/><circle cx="111.06" cy="361.00" r="1.9"/><circle cx="116.44" cy="361.00" r="1.9"/><circle cx="121.81" cy="361.00" r="1.9"/><circle cx="127.18" cy="361.00" r="1.9"/><circle cx="132.55" cy="361.00" r="1.9"/><circle cx="137.93" cy="361.00" r="1.9"/><circle cx="143.30" cy="361.00" r="1.9"/><circle cx="86.87" cy="362.50" r="1.9"/><circle cx="92.24" cy="362.50" r="1.9"/><circle cx="97.62" cy="362.50" r="1.9"/><circle cx="103.00" cy="362.50" r="1.9"/><circle cx="108.37" cy="362.50" r="1.9"/><circle cx="113.75" cy="362.50" r="1.9"/><circle cx="119.13" cy="362.50" r="1.9"/><circle cx="124.50" cy="362.50" r="1.9"/><circle cx="129.88" cy="362.50" r="1.9"/><circle cx="135.26" cy="362.50" r="1.9"/><circle cx="140.64" cy="362.50" r="1.9"/><circle cx="84.20" cy="364.00" r="1.9"/><circle cx="89.57" cy="364.00" r="1.9"/><circle cx="94.95" cy="364.00" r="1.9"/><circle cx="100.32" cy="364.00" r="1.9"/><circle cx="105.69" cy="364.00" r="1.9"/><circle cx="111.06" cy="364.00" r="1.9"/><circle cx="116.44" cy="364.00" r="1.9"/><circle cx="121.81" cy="364.00" r="1.9"/><circle cx="127.18" cy="364.00" r="1.9"/><circle cx="132.55" cy="364.00" r="1.9"/><circle cx="137.93" cy="364.00" r="1.9"/><circle cx="143.30" cy="364.00" r="1.9"/><circle cx="86.87" cy="365.50" r="1.9"/><circle cx="92.24" cy="365.50" r="1.9"/><circle cx="97.62" cy="365.50" r="1.9"/><circle cx="103.00" cy="365.50" r="1.9"/><circle cx="108.37" cy="365.50" r="1.9"/><circle cx="113.75" cy="365.50" r="1.9"/><circle cx="119.13" cy="365.50" r="1.9"/><circle cx="124.50" cy="365.50" r="1.9"/><circle cx="129.88" cy="365.50" r="1.9"/><circle cx="135.26" cy="365.50" r="1.9"/><circle cx="140.64" cy="365.50" r="1.9"/><circle cx="84.20" cy="367.00" r="1.9"/><circle cx="89.57" cy="367.00" r="1.9"/><circle cx="94.95" cy="367.00" r="1.9"/><circle cx="100.32" cy="367.00" r="1.9"/><circle cx="105.69" cy="367.00" r="1.9"/><circle cx="111.06" cy="367.00" r="1.9"/><circle cx="116.44" cy="367.00" r="1.9"/><circle cx="121.81" cy="367.00" r="1.9"/><circle cx="127.18" cy="367.00" r="1.9"/><circle cx="132.55" cy="367.00" r="1.9"/><circle cx="137.93" cy="367.00" r="1.9"/><circle cx="143.30" cy="367.00" r="1.9"/><circle cx="86.87" cy="368.50" r="1.9"/><circle cx="92.24" cy="368.50" r="1.9"/><circle cx="97.62" cy="368.50" r="1.9"/><circle cx="103.00" cy="368.50" r="1.9"/><circle cx="108.37" cy="368.50" r="1.9"/><circle cx="113.75" cy="368.50" r="1.9"/><circle cx="119.13" cy="368.50" r="1.9"/><circle cx="124.50" cy="368.50" r="1.9"/><circle cx="129.88" cy="368.50" r="1.9"/><circle cx="135.26" cy="368.50" r="1.9"/><circle cx="140.64" cy="368.50" r="1.9"/><circle cx="84.20" cy="370.00" r="1.9"/><circle cx="89.57" cy="370.00" r="1.9"/><circle cx="94.95" cy="370.00" r="1.9"/><circle cx="100.32" cy="370.00" r="1.9"/><circle cx="105.69" cy="370.00" r="1.9"/><circle cx="111.06" cy="370.00" r="1.9"/><circle cx="116.44" cy="370.00" r="1.9"/><circle cx="121.81" cy="370.00" r="1.9"/><circle cx="127.18" cy="370.00" r="1.9"/><circle cx="132.55" cy="370.00" r="1.9"/><circle cx="137.93" cy="370.00" r="1.9"/><circle cx="143.30" cy="370.00" r="1.9"/><circle cx="86.87" cy="371.50" r="1.9"/><circle cx="92.24" cy="371.50" r="1.9"/><circle cx="97.62" cy="371.50" r="1.9"/><circle cx="103.00" cy="371.50" r="1.9"/><circle cx="108.37" cy="371.50" r="1.9"/><circle cx="113.75" cy="371.50" r="1.9"/><circle cx="119.13" cy="371.50" r="1.9"/><circle cx="124.50" cy="371.50" r="1.9"/><circle cx="129.88" cy="371.50" r="1.9"/><circle cx="135.26" cy="371.50" r="1.9"/><circle cx="140.64" cy="371.50" r="1.9"/><circle cx="84.20" cy="373.00" r="1.9"/><circle cx="89.57" cy="373.00" r="1.9"/><circle cx="94.95" cy="373.00" r="1.9"/><circle cx="100.32" cy="373.00" r="1.9"/><circle cx="105.69" cy="373.00" r="1.9"/><circle cx="111.06" cy="373.00" r="1.9"/><circle cx="116.44" cy="373.00" r="1.9"/><circle cx="121.81" cy="373.00" r="1.9"/><circle cx="127.18" cy="373.00" r="1.9"/><circle cx="132.55" cy="373.00" r="1.9"/><circle cx="137.93" cy="373.00" r="1.9"/><circle cx="143.30" cy="373.00" r="1.9"/><circle cx="86.87" cy="374.50" r="1.9"/><circle cx="92.24" cy="374.50" r="1.9"/><circle cx="97.62" cy="374.50" r="1.9"/><circle cx="103.00" cy="374.50" r="1.9"/><circle cx="108.37" cy="374.50" r="1.9"/><circle cx="113.75" cy="374.50" r="1.9"/><circle cx="119.13" cy="374.50" r="1.9"/><circle cx="124.50" cy="374.50" r="1.9"/><circle cx="129.88" cy="374.50" r="1.9"/><circle cx="135.26" cy="374.50" r="1.9"/><circle cx="140.64" cy="374.50" r="1.9"/><circle cx="84.20" cy="376.00" r="1.9"/><circle cx="89.57" cy="376.00" r="1.9"/><circle cx="94.95" cy="376.00" r="1.9"/><circle cx="100.32" cy="376.00" r="1.9"/><circle cx="105.69" cy="376.00" r="1.9"/><circle cx="111.06" cy="376.00" r="1.9"/><circle cx="116.44" cy="376.00" r="1.9"/><circle cx="121.81" cy="376.00" r="1.9"/><circle cx="127.18" cy="376.00" r="1.9"/><circle cx="132.55" cy="376.00" r="1.9"/><circle cx="137.93" cy="376.00" r="1.9"/><circle cx="143.30" cy="376.00" r="1.9"/><circle cx="86.87" cy="377.50" r="1.9"/><circle cx="92.24" cy="377.50" r="1.9"/><circle cx="97.62" cy="377.50" r="1.9"/><circle cx="103.00" cy="377.50" r="1.9"/><circle cx="108.37" cy="377.50" r="1.9"/><circle cx="113.75" cy="377.50" r="1.9"/><circle cx="119.13" cy="377.50" r="1.9"/><circle cx="124.50" cy="377.50" r="1.9"/><circle cx="129.88" cy="377.50" r="1.9"/><circle cx="135.26" cy="377.50" r="1.9"/><circle cx="140.64" cy="377.50" r="1.9"/><circle cx="84.20" cy="379.00" r="1.9"/><circle cx="89.57" cy="379.00" r="1.9"/><circle cx="94.95" cy="379.00" r="1.9"/><circle cx="100.32" cy="379.00" r="1.9"/><circle cx="105.69" cy="379.00" r="1.9"/><circle cx="111.06" cy="379.00" r="1.9"/><circle cx="116.44" cy="379.00" r="1.9"/><circle cx="121.81" cy="379.00" r="1.9"/><circle cx="127.18" cy="379.00" r="1.9"/><circle cx="132.55" cy="379.00" r="1.9"/><circle cx="137.93" cy="379.00" r="1.9"/><circle cx="143.30" cy="379.00" r="1.9"/><circle cx="86.87" cy="380.50" r="1.9"/><circle cx="92.24" cy="380.50" r="1.9"/><circle cx="97.62" cy="380.50" r="1.9"/><circle cx="103.00" cy="380.50" r="1.9"/><circle cx="108.37" cy="380.50" r="1.9"/><circle cx="113.75" cy="380.50" r="1.9"/><circle cx="119.13" cy="380.50" r="1.9"/><circle cx="124.50" cy="380.50" r="1.9"/><circle cx="129.88" cy="380.50" r="1.9"/><circle cx="135.26" cy="380.50" r="1.9"/><circle cx="140.64" cy="380.50" r="1.9"/><circle cx="84.20" cy="382.00" r="1.9"/><circle cx="89.57" cy="382.00" r="1.9"/><circle cx="94.95" cy="382.00" r="1.9"/><circle cx="100.32" cy="382.00" r="1.9"/><circle cx="105.69" cy="382.00" r="1.9"/><circle cx="111.06" cy="382.00" r="1.9"/><circle cx="116.44" cy="382.00" r="1.9"/><circle cx="121.81" cy="382.00" r="1.9"/><circle cx="127.18" cy="382.00" r="1.9"/><circle cx="132.55" cy="382.00" r="1.9"/><circle cx="137.93" cy="382.00" r="1.9"/><circle cx="143.30" cy="382.00" r="1.9"/><circle cx="86.87" cy="383.50" r="1.9"/><circle cx="92.24" cy="383.50" r="1.9"/><circle cx="97.62" cy="383.50" r="1.9"/><circle cx="103.00" cy="383.50" r="1.9"/><circle cx="108.37" cy="383.50" r="1.9"/><circle cx="113.75" cy="383.50" r="1.9"/><circle cx="119.13" cy="383.50" r="1.9"/><circle cx="124.50" cy="383.50" r="1.9"/><circle cx="129.88" cy="383.50" r="1.9"/><circle cx="135.26" cy="383.50" r="1.9"/><circle cx="140.64" cy="383.50" r="1.9"/><circle cx="84.20" cy="385.00" r="1.9"/><circle cx="89.57" cy="385.00" r="1.9"/><circle cx="94.95" cy="385.00" r="1.9"/><circle cx="100.32" cy="385.00" r="1.9"/><circle cx="105.69" cy="385.00" r="1.9"/><circle cx="111.06" cy="385.00" r="1.9"/><circle cx="116.44" cy="385.00" r="1.9"/><circle cx="121.81" cy="385.00" r="1.9"/><circle cx="127.18" cy="385.00" r="1.9"/><circle cx="132.55" cy="385.00" r="1.9"/><circle cx="137.93" cy="385.00" r="1.9"/><circle cx="143.30" cy="385.00" r="1.9"/><circle cx="86.87" cy="386.50" r="1.9"/><circle cx="92.24" cy="386.50" r="1.9"/><circle cx="97.62" cy="386.50" r="1.9"/><circle cx="103.00" cy="386.50" r="1.9"/><circle cx="108.37" cy="386.50" r="1.9"/><circle cx="113.75" cy="386.50" r="1.9"/><circle cx="119.13" cy="386.50" r="1.9"/><circle cx="124.50" cy="386.50" r="1.9"/><circle cx="129.88" cy="386.50" r="1.9"/><circle cx="135.26" cy="386.50" r="1.9"/><circle cx="140.64" cy="386.50" r="1.9"/><circle cx="108.30" cy="359.20" r="1.9"/><circle cx="113.30" cy="359.50" r="1.9"/><circle cx="118.90" cy="358.50" r="1.9"/><circle cx="84.50" cy="385.30" r="1.9"/><circle cx="86.80" cy="386.60" r="1.9"/><circle cx="92.10" cy="387.30" r="1.9"/><circle cx="97.60" cy="387.60" r="1.9"/><circle cx="115.30" cy="388.60" r="1.9"/><circle cx="121.20" cy="388.20" r="1.9"/><circle cx="129.30" cy="387.30" r="1.9"/><circle cx="134.90" cy="386.60" r="1.9"/><circle cx="140.50" cy="386.60" r="1.9"/><circle cx="143.40" cy="385.00" r="1.9"/><circle cx="84.00" cy="389.90" r="1.9"/><circle cx="89.50" cy="391.20" r="1.9"/><circle cx="94.90" cy="392.20" r="1.9"/><circle cx="100.30" cy="392.50" r="1.9"/><circle cx="105.60" cy="392.80" r="1.9"/><circle cx="111.00" cy="393.10" r="1.9"/><circle cx="116.30" cy="393.50" r="1.9"/><circle cx="121.70" cy="393.10" r="1.9"/><circle cx="127.10" cy="392.80" r="1.9"/><circle cx="132.40" cy="392.30" r="1.9"/><circle cx="137.70" cy="391.80" r="1.9"/><circle cx="143.10" cy="391.40" r="1.9"/><circle cx="102.90" cy="396.10" r="1.9"/><circle cx="108.20" cy="396.70" r="1.9"/><circle cx="118.90" cy="397.40" r="1.9"/><circle cx="124.30" cy="396.40" r="1.9"/><circle cx="113.40" cy="401.00" r="1.9"/><circle cx="129.70" cy="402.00" r="1.9"/><circle cx="97.50" cy="403.60" r="1.9"/><circle cx="102.90" cy="405.60" r="1.9"/><circle cx="108.20" cy="405.90" r="1.9"/><circle cx="113.40" cy="407.10" r="1.9"/><circle cx="118.90" cy="405.60" r="1.9"/><circle cx="124.30" cy="404.30" r="1.9"/><circle cx="113.50" cy="413.80" r="1.9"/></g>
<g fill="#fff" stroke="#fff" stroke-width="0.9"><path d="M87.00 370.00L89.60 364.00"/><path d="M92.35 370.00L94.95 364.00"/><path d="M97.70 370.00L100.30 364.00"/><path d="M103.05 370.00L105.65 364.00"/><path d="M108.40 370.00L111.00 364.00"/><path d="M116.35 370.00L113.75 364.00"/><path d="M121.70 370.00L119.10 364.00"/><path d="M127.05 370.00L124.45 364.00"/><path d="M132.40 370.00L129.80 364.00"/><path d="M137.75 370.00L135.15 364.00"/><path d="M143.10 370.00L140.50 364.00"/><rect x="88.00" y="372.40" width="1.0" height="1.2"/><rect x="93.35" y="372.40" width="1.0" height="1.2"/><rect x="98.70" y="372.40" width="1.0" height="1.2"/><rect x="104.05" y="372.40" width="1.0" height="1.2"/><rect x="109.40" y="372.40" width="1.0" height="1.2"/><rect x="114.75" y="372.40" width="1.0" height="1.2"/><rect x="120.10" y="372.40" width="1.0" height="1.2"/><rect x="125.45" y="372.40" width="1.0" height="1.2"/><rect x="130.80" y="372.40" width="1.0" height="1.2"/><rect x="136.15" y="372.40" width="1.0" height="1.2"/><rect x="141.50" y="372.40" width="1.0" height="1.2"/><path d="M87.52 385.10L89.08 381.50"/><path d="M92.87 385.10L94.43 381.50"/><path d="M98.22 385.10L99.78 381.50"/><path d="M103.57 385.10L105.13 381.50"/><path d="M108.92 385.10L110.48 381.50"/><path d="M115.83 385.10L114.27 381.50"/><path d="M121.18 385.10L119.62 381.50"/><path d="M126.53 385.10L124.97 381.50"/><path d="M131.88 385.10L130.32 381.50"/><path d="M137.23 385.10L135.67 381.50"/><path d="M142.58 385.10L141.02 381.50"/></g>
<g fill="#ff0000"><circle cx="184.78" cy="366.60" r="1.9"/><circle cx="184.78" cy="368.80" r="1.9"/><circle cx="184.78" cy="371.00" r="1.9"/><circle cx="184.78" cy="373.20" r="1.9"/><circle cx="184.78" cy="375.40" r="1.9"/><circle cx="184.78" cy="377.60" r="1.9"/><circle cx="184.78" cy="379.80" r="1.9"/><circle cx="184.78" cy="382.00" r="1.9"/><circle cx="184.78" cy="384.20" r="1.9"/><circle cx="184.78" cy="386.40" r="1.9"/><circle cx="184.78" cy="387.00" r="1.9"/><circle cx="190.12" cy="366.60" r="1.9"/><circle cx="190.12" cy="368.80" r="1.9"/><circle cx="190.12" cy="371.00" r="1.9"/><circle cx="190.12" cy="373.20" r="1.9"/><circle cx="190.12" cy="375.40" r="1.9"/><circle cx="190.12" cy="377.60" r="1.9"/><circle cx="190.12" cy="379.80" r="1.9"/><circle cx="190.12" cy="382.00" r="1.9"/><circle cx="190.12" cy="384.20" r="1.9"/><circle cx="190.12" cy="386.40" r="1.9"/><circle cx="190.12" cy="387.30" r="1.9"/><circle cx="195.44" cy="364.90" r="1.9"/><circle cx="195.44" cy="367.10" r="1.9"/><circle cx="195.44" cy="369.30" r="1.9"/><circle cx="195.44" cy="371.50" r="1.9"/><circle cx="195.44" cy="373.70" r="1.9"/><circle cx="195.44" cy="375.90" r="1.9"/><circle cx="195.44" cy="378.10" r="1.9"/><circle cx="195.44" cy="380.30" r="1.9"/><circle cx="195.44" cy="382.50" r="1.9"/><circle cx="195.44" cy="384.70" r="1.9"/><circle cx="195.44" cy="386.90" r="1.9"/><circle cx="195.44" cy="387.50" r="1.9"/><circle cx="200.78" cy="363.00" r="1.9"/><circle cx="200.78" cy="365.20" r="1.9"/><circle cx="200.78" cy="367.40" r="1.9"/><circle cx="200.78" cy="369.60" r="1.9"/><circle cx="200.78" cy="371.80" r="1.9"/><circle cx="200.78" cy="374.00" r="1.9"/><circle cx="200.78" cy="376.20" r="1.9"/><circle cx="200.78" cy="378.40" r="1.9"/><circle cx="200.78" cy="380.60" r="1.9"/><circle cx="200.78" cy="382.80" r="1.9"/><circle cx="200.78" cy="385.00" r="1.9"/><circle cx="200.78" cy="387.20" r="1.9"/><circle cx="200.78" cy="387.60" r="1.9"/><circle cx="206.10" cy="364.00" r="1.9"/><circle cx="206.10" cy="366.20" r="1.9"/><circle cx="206.10" cy="368.40" r="1.9"/><circle cx="206.10" cy="370.60" r="1.9"/><circle cx="206.10" cy="372.80" r="1.9"/><circle cx="206.10" cy="375.00" r="1.9"/><circle cx="206.10" cy="377.20" r="1.9"/><circle cx="206.10" cy="379.40" r="1.9"/><circle cx="206.10" cy="381.60" r="1.9"/><circle cx="206.10" cy="383.80" r="1.9"/><circle cx="206.10" cy="386.00" r="1.9"/><circle cx="206.10" cy="387.60" r="1.9"/><circle cx="211.44" cy="364.00" r="1.9"/><circle cx="211.44" cy="366.20" r="1.9"/><circle cx="211.44" cy="368.40" r="1.9"/><circle cx="211.44" cy="370.60" r="1.9"/><circle cx="211.44" cy="372.80" r="1.9"/><circle cx="211.44" cy="375.00" r="1.9"/><circle cx="211.44" cy="377.20" r="1.9"/><circle cx="211.44" cy="379.40" r="1.9"/><circle cx="211.44" cy="381.60" r="1.9"/><circle cx="211.44" cy="383.80" r="1.9"/><circle cx="211.44" cy="386.00" r="1.9"/><circle cx="211.44" cy="387.60" r="1.9"/><circle cx="216.76" cy="364.30" r="1.9"/><circle cx="216.76" cy="366.50" r="1.9"/><circle cx="216.76" cy="368.70" r="1.9"/><circle cx="216.76" cy="370.90" r="1.9"/><circle cx="216.76" cy="373.10" r="1.9"/><circle cx="216.76" cy="375.30" r="1.9"/><circle cx="216.76" cy="377.50" r="1.9"/><circle cx="216.76" cy="379.70" r="1.9"/><circle cx="216.76" cy="381.90" r="1.9"/><circle cx="216.76" cy="384.10" r="1.9"/><circle cx="216.76" cy="386.30" r="1.9"/><circle cx="216.76" cy="387.60" r="1.9"/><circle cx="222.09" cy="363.30" r="1.9"/><circle cx="222.09" cy="365.50" r="1.9"/><circle cx="222.09" cy="367.70" r="1.9"/><circle cx="222.09" cy="369.90" r="1.9"/><circle cx="222.09" cy="372.10" r="1.9"/><circle cx="222.09" cy="374.30" r="1.9"/><circle cx="222.09" cy="376.50" r="1.9"/><circle cx="222.09" cy="378.70" r="1.9"/><circle cx="222.09" cy="380.90" r="1.9"/><circle cx="222.09" cy="383.10" r="1.9"/><circle cx="222.09" cy="385.30" r="1.9"/><circle cx="222.09" cy="387.50" r="1.9"/><circle cx="222.09" cy="387.60" r="1.9"/><circle cx="227.42" cy="364.00" r="1.9"/><circle cx="227.42" cy="366.20" r="1.9"/><circle cx="227.42" cy="368.40" r="1.9"/><circle cx="227.42" cy="370.60" r="1.9"/><circle cx="227.42" cy="372.80" r="1.9"/><circle cx="227.42" cy="375.00" r="1.9"/><circle cx="227.42" cy="377.20" r="1.9"/><circle cx="227.42" cy="379.40" r="1.9"/><circle cx="227.42" cy="381.60" r="1.9"/><circle cx="227.42" cy="383.80" r="1.9"/><circle cx="227.42" cy="386.00" r="1.9"/><circle cx="227.42" cy="387.50" r="1.9"/><circle cx="232.75" cy="366.60" r="1.9"/><circle cx="232.75" cy="368.80" r="1.9"/><circle cx="232.75" cy="371.00" r="1.9"/><circle cx="232.75" cy="373.20" r="1.9"/><circle cx="232.75" cy="375.40" r="1.9"/><circle cx="232.75" cy="377.60" r="1.9"/><circle cx="232.75" cy="379.80" r="1.9"/><circle cx="232.75" cy="382.00" r="1.9"/><circle cx="232.75" cy="384.20" r="1.9"/><circle cx="232.75" cy="386.40" r="1.9"/><circle cx="232.75" cy="387.30" r="1.9"/><circle cx="238.08" cy="366.60" r="1.9"/><circle cx="238.08" cy="368.80" r="1.9"/><circle cx="238.08" cy="371.00" r="1.9"/><circle cx="238.08" cy="373.20" r="1.9"/><circle cx="238.08" cy="375.40" r="1.9"/><circle cx="238.08" cy="377.60" r="1.9"/><circle cx="238.08" cy="379.80" r="1.9"/><circle cx="238.08" cy="382.00" r="1.9"/><circle cx="238.08" cy="384.20" r="1.9"/><circle cx="238.08" cy="386.40" r="1.9"/><circle cx="238.08" cy="387.00" r="1.9"/><circle cx="243.41" cy="367.50" r="1.9"/><circle cx="243.41" cy="369.70" r="1.9"/><circle cx="243.41" cy="371.90" r="1.9"/><circle cx="243.41" cy="374.10" r="1.9"/><circle cx="243.41" cy="376.30" r="1.9"/><circle cx="243.41" cy="378.50" r="1.9"/><circle cx="243.41" cy="380.70" r="1.9"/><circle cx="243.41" cy="382.90" r="1.9"/><circle cx="243.41" cy="385.10" r="1.9"/><circle cx="243.41" cy="386.50" r="1.9"/><circle cx="187.45" cy="369.00" r="1.9"/><circle cx="187.45" cy="371.20" r="1.9"/><circle cx="187.45" cy="373.40" r="1.9"/><circle cx="187.45" cy="375.60" r="1.9"/><circle cx="187.45" cy="377.80" r="1.9"/><circle cx="187.45" cy="380.00" r="1.9"/><circle cx="187.45" cy="382.20" r="1.9"/><circle cx="187.45" cy="383.00" r="1.9"/><circle cx="192.78" cy="369.00" r="1.9"/><circle cx="192.78" cy="371.20" r="1.9"/><circle cx="192.78" cy="373.40" r="1.9"/><circle cx="192.78" cy="375.60" r="1.9"/><circle cx="192.78" cy="377.80" r="1.9"/><circle cx="192.78" cy="380.00" r="1.9"/><circle cx="192.78" cy="382.20" r="1.9"/><circle cx="192.78" cy="383.00" r="1.9"/><circle cx="198.11" cy="369.00" r="1.9"/><circle cx="198.11" cy="371.20" r="1.9"/><circle cx="198.11" cy="373.40" r="1.9"/><circle cx="198.11" cy="375.60" r="1.9"/><circle cx="198.11" cy="377.80" r="1.9"/><circle cx="198.11" cy="380.00" r="1.9"/><circle cx="198.11" cy="382.20" r="1.9"/><circle cx="198.11" cy="383.00" r="1.9"/><circle cx="203.44" cy="369.00" r="1.9"/><circle cx="203.44" cy="371.20" r="1.9"/><circle cx="203.44" cy="373.40" r="1.9"/><circle cx="203.44" cy="375.60" r="1.9"/><circle cx="203.44" cy="377.80" r="1.9"/><circle cx="203.44" cy="380.00" r="1.9"/><circle cx="203.44" cy="382.20" r="1.9"/><circle cx="203.44" cy="383.00" r="1.9"/><circle cx="208.77" cy="369.00" r="1.9"/><circle cx="208.77" cy="371.20" r="1.9"/><circle cx="208.77" cy="373.40" r="1.9"/><circle cx="208.77" cy="375.60" r="1.9"/><circle cx="208.77" cy="377.80" r="1.9"/><circle cx="208.77" cy="380.00" r="1.9"/><circle cx="208.77" cy="382.20" r="1.9"/><circle cx="208.77" cy="383.00" r="1.9"/><circle cx="214.10" cy="369.00" r="1.9"/><circle cx="214.10" cy="371.20" r="1.9"/><circle cx="214.10" cy="373.40" r="1.9"/><circle cx="214.10" cy="375.60" r="1.9"/><circle cx="214.10" cy="377.80" r="1.9"/><circle cx="214.10" cy="380.00" r="1.9"/><circle cx="214.10" cy="382.20" r="1.9"/><circle cx="214.10" cy="383.00" r="1.9"/><circle cx="219.43" cy="369.00" r="1.9"/><circle cx="219.43" cy="371.20" r="1.9"/><circle cx="219.43" cy="373.40" r="1.9"/><circle cx="219.43" cy="375.60" r="1.9"/><circle cx="219.43" cy="377.80" r="1.9"/><circle cx="219.43" cy="380.00" r="1.9"/><circle cx="219.43" cy="382.20" r="1.9"/><circle cx="219.43" cy="383.00" r="1.9"/><circle cx="224.76" cy="369.00" r="1.9"/><circle cx="224.76" cy="371.20" r="1.9"/><circle cx="224.76" cy="373.40" r="1.9"/><circle cx="224.76" cy="375.60" r="1.9"/><circle cx="224.76" cy="377.80" r="1.9"/><circle cx="224.76" cy="380.00" r="1.9"/><circle cx="224.76" cy="382.20" r="1.9"/><circle cx="224.76" cy="383.00" r="1.9"/><circle cx="230.09" cy="369.00" r="1.9"/><circle cx="230.09" cy="371.20" r="1.9"/><circle cx="230.09" cy="373.40" r="1.9"/><circle cx="230.09" cy="375.60" r="1.9"/><circle cx="230.09" cy="377.80" r="1.9"/><circle cx="230.09" cy="380.00" r="1.9"/><circle cx="230.09" cy="382.20" r="1.9"/><circle cx="230.09" cy="383.00" r="1.9"/><circle cx="235.42" cy="369.00" r="1.9"/><circle cx="235.42" cy="371.20" r="1.9"/><circle cx="235.42" cy="373.40" r="1.9"/><circle cx="235.42" cy="375.60" r="1.9"/><circle cx="235.42" cy="377.80" r="1.9"/><circle cx="235.42" cy="380.00" r="1.9"/><circle cx="235.42" cy="382.20" r="1.9"/><circle cx="235.42" cy="383.00" r="1.9"/><circle cx="240.75" cy="369.00" r="1.9"/><circle cx="240.75" cy="371.20" r="1.9"/><circle cx="240.75" cy="373.40" r="1.9"/><circle cx="240.75" cy="375.60" r="1.9"/><circle cx="240.75" cy="377.80" r="1.9"/><circle cx="240.75" cy="380.00" r="1.9"/><circle cx="240.75" cy="382.20" r="1.9"/><circle cx="240.75" cy="383.00" r="1.9"/><circle cx="214.10" cy="347.60" r="1.9"/><circle cx="206.00" cy="355.80" r="1.9"/><circle cx="211.60" cy="358.20" r="1.9"/><circle cx="216.90" cy="358.80" r="1.9"/><circle cx="222.10" cy="357.10" r="1.9"/><circle cx="192.80" cy="359.40" r="1.9"/><circle cx="198.00" cy="361.00" r="1.9"/><circle cx="230.20" cy="361.70" r="1.9"/><circle cx="235.60" cy="359.90" r="1.9"/><circle cx="184.60" cy="388.50" r="1.9"/><circle cx="189.90" cy="389.20" r="1.9"/><circle cx="195.30" cy="389.90" r="1.9"/><circle cx="200.60" cy="390.30" r="1.9"/><circle cx="206.10" cy="390.70" r="1.9"/><circle cx="211.50" cy="392.90" r="1.9"/><circle cx="203.40" cy="394.00" r="1.9"/><circle cx="208.70" cy="396.90" r="1.9"/><circle cx="214.00" cy="398.80" r="1.9"/><circle cx="211.50" cy="405.00" r="1.9"/><circle cx="216.80" cy="406.90" r="1.9"/><circle cx="203.40" cy="413.50" r="1.9"/><circle cx="208.70" cy="415.70" r="1.9"/><circle cx="214.10" cy="416.00" r="1.9"/><circle cx="219.40" cy="415.60" r="1.9"/><circle cx="224.90" cy="415.00" r="1.9"/><circle cx="222.30" cy="390.70" r="1.9"/><circle cx="227.50" cy="390.70" r="1.9"/><circle cx="233.00" cy="389.90" r="1.9"/><circle cx="238.10" cy="389.20" r="1.9"/><circle cx="243.70" cy="388.50" r="1.9"/><circle cx="216.80" cy="393.10" r="1.9"/><circle cx="224.90" cy="394.40" r="1.9"/><circle cx="219.70" cy="397.30" r="1.9"/></g>
<g fill="#fff" stroke="#fff" stroke-width="0.9"><path d="M188.81 371.50L191.42 365.50"/><path d="M194.14 371.50L196.75 365.50"/><path d="M199.47 371.50L202.08 365.50"/><path d="M204.80 371.50L207.41 365.50"/><path d="M210.13 371.50L212.74 365.50"/><path d="M218.06 371.50L215.46 365.50"/><path d="M223.40 371.50L220.79 365.50"/><path d="M228.72 371.50L226.12 365.50"/><path d="M234.06 371.50L231.45 365.50"/><path d="M239.38 371.50L236.78 365.50"/><rect x="186.95" y="372.80" width="1.0" height="1.2"/><rect x="192.28" y="372.80" width="1.0" height="1.2"/><rect x="197.61" y="372.80" width="1.0" height="1.2"/><rect x="202.94" y="372.80" width="1.0" height="1.2"/><rect x="208.27" y="372.80" width="1.0" height="1.2"/><rect x="213.60" y="372.80" width="1.0" height="1.2"/><rect x="218.93" y="372.80" width="1.0" height="1.2"/><rect x="224.26" y="372.80" width="1.0" height="1.2"/><rect x="229.59" y="372.80" width="1.0" height="1.2"/><rect x="234.92" y="372.80" width="1.0" height="1.2"/><rect x="240.25" y="372.80" width="1.0" height="1.2"/><rect x="186.95" y="379.60" width="1.0" height="1.2"/><rect x="192.28" y="379.60" width="1.0" height="1.2"/><rect x="197.61" y="379.60" width="1.0" height="1.2"/><rect x="202.94" y="379.60" width="1.0" height="1.2"/><rect x="208.27" y="379.60" width="1.0" height="1.2"/><rect x="213.60" y="379.60" width="1.0" height="1.2"/><rect x="218.93" y="379.60" width="1.0" height="1.2"/><rect x="224.26" y="379.60" width="1.0" height="1.2"/><rect x="229.59" y="379.60" width="1.0" height="1.2"/><rect x="234.92" y="379.60" width="1.0" height="1.2"/><rect x="240.25" y="379.60" width="1.0" height="1.2"/><path d="M189.34 385.40L190.90 381.80"/><path d="M194.66 385.40L196.22 381.80"/><path d="M200.00 385.40L201.56 381.80"/><path d="M205.32 385.40L206.88 381.80"/><path d="M210.66 385.40L212.22 381.80"/><path d="M217.54 385.40L215.98 381.80"/><path d="M222.88 385.40L221.31 381.80"/><path d="M228.20 385.40L226.64 381.80"/><path d="M233.53 385.40L231.97 381.80"/><path d="M238.86 385.40L237.30 381.80"/></g>
<g fill="#0000ff"><circle cx="362.69" cy="362.00" r="1.9"/><circle cx="362.69" cy="364.00" r="1.9"/><circle cx="362.69" cy="366.00" r="1.9"/><circle cx="362.69" cy="368.00" r="1.9"/><circle cx="362.69" cy="370.00" r="1.9"/><circle cx="362.69" cy="372.00" r="1.9"/><circle cx="362.69" cy="374.00" r="1.9"/><circle cx="362.69" cy="376.00" r="1.9"/><circle cx="362.69" cy="378.00" r="1.9"/><circle cx="362.69" cy="380.00" r="1.9"/><circle cx="362.69" cy="382.00" r="1.9"/><circle cx="362.69" cy="384.00" r="1.9"/><circle cx="362.69" cy="386.00" r="1.9"/><circle cx="362.69" cy="388.00" r="1.9"/><circle cx="362.69" cy="388.30" r="1.9"/><circle cx="368.01" cy="362.50" r="1.9"/><circle cx="368.01" cy="364.50" r="1.9"/><circle cx="368.01" cy="366.50" r="1.9"/><circle cx="368.01" cy="368.50" r="1.9"/><circle cx="368.01" cy="370.50" r="1.9"/><circle cx="368.01" cy="372.50" r="1.9"/><circle cx="368.01" cy="374.50" r="1.9"/><circle cx="368.01" cy="376.50" r="1.9"/><circle cx="368.01" cy="378.50" r="1.9"/><circle cx="368.01" cy="380.50" r="1.9"/><circle cx="368.01" cy="382.50" r="1.9"/><circle cx="368.01" cy="384.50" r="1.9"/><circle cx="368.01" cy="386.50" r="1.9"/><circle cx="368.01" cy="388.30" r="1.9"/><circle cx="373.35" cy="363.30" r="1.9"/><circle cx="373.35" cy="365.30" r="1.9"/><circle cx="373.35" cy="367.30" r="1.9"/><circle cx="373.35" cy="369.30" r="1.9"/><circle cx="373.35" cy="371.30" r="1.9"/><circle cx="373.35" cy="373.30" r="1.9"/><circle cx="373.35" cy="375.30" r="1.9"/><circle cx="373.35" cy="377.30" r="1.9"/><circle cx="373.35" cy="379.30" r="1.9"/><circle cx="373.35" cy="381.30" r="1.9"/><circle cx="373.35" cy="383.30" r="1.9"/><circle cx="373.35" cy="385.30" r="1.9"/><circle cx="373.35" cy="387.30" r="1.9"/><circle cx="373.35" cy="388.30" r="1.9"/><circle cx="378.68" cy="359.70" r="1.9"/><circle cx="378.68" cy="361.70" r="1.9"/><circle cx="378.68" cy="363.70" r="1.9"/><circle cx="378.68" cy="365.70" r="1.9"/><circle cx="378.68" cy="367.70" r="1.9"/><circle cx="378.68" cy="369.70" r="1.9"/><circle cx="378.68" cy="371.70" r="1.9"/><circle cx="378.68" cy="373.70" r="1.9"/><circle cx="378.68" cy="375.70" r="1.9"/><circle cx="378.68" cy="377.70" r="1.9"/><circle cx="378.68" cy="379.70" r="1.9"/><circle cx="378.68" cy="381.70" r="1.9"/><circle cx="378.68" cy="383.70" r="1.9"/><circle cx="378.68" cy="385.70" r="1.9"/><circle cx="378.68" cy="387.70" r="1.9"/><circle cx="378.68" cy="388.30" r="1.9"/><circle cx="384.00" cy="360.20" r="1.9"/><circle cx="384.00" cy="362.20" r="1.9"/><circle cx="384.00" cy="364.20" r="1.9"/><circle cx="384.00" cy="366.20" r="1.9"/><circle cx="384.00" cy="368.20" r="1.9"/><circle cx="384.00" cy="370.20" r="1.9"/><circle cx="384.00" cy="372.20" r="1.9"/><circle cx="384.00" cy="374.20" r="1.9"/><circle cx="384.00" cy="376.20" r="1.9"/><circle cx="384.00" cy="378.20" r="1.9"/><circle cx="384.00" cy="380.20" r="1.9"/><circle cx="384.00" cy="382.20" r="1.9"/><circle cx="384.00" cy="384.20" r="1.9"/><circle cx="384.00" cy="386.20" r="1.9"/><circle cx="384.00" cy="388.20" r="1.9"/><circle cx="384.00" cy="389.80" r="1.9"/><circle cx="389.33" cy="360.80" r="1.9"/><circle cx="389.33" cy="362.80" r="1.9"/><circle cx="389.33" cy="364.80" r="1.9"/><circle cx="389.33" cy="366.80" r="1.9"/><circle cx="389.33" cy="368.80" r="1.9"/><circle cx="389.33" cy="370.80" r="1.9"/><circle cx="389.33" cy="372.80" r="1.9"/><circle cx="389.33" cy="374.80" r="1.9"/><circle cx="389.33" cy="376.80" r="1.9"/><circle cx="389.33" cy="378.80" r="1.9"/><circle cx="389.33" cy="380.80" r="1.9"/><circle cx="389.33" cy="382.80" r="1.9"/><circle cx="389.33" cy="384.80" r="1.9"/><circle cx="389.33" cy="386.80" r="1.9"/><circle cx="389.33" cy="388.80" r="1.9"/><circle cx="389.33" cy="390.20" r="1.9"/><circle cx="394.67" cy="361.50" r="1.9"/><circle cx="394.67" cy="363.50" r="1.9"/><circle cx="394.67" cy="365.50" r="1.9"/><circle cx="394.67" cy="367.50" r="1.9"/><circle cx="394.67" cy="369.50" r="1.9"/><circle cx="394.67" cy="371.50" r="1.9"/><circle cx="394.67" cy="373.50" r="1.9"/><circle cx="394.67" cy="375.50" r="1.9"/><circle cx="394.67" cy="377.50" r="1.9"/><circle cx="394.67" cy="379.50" r="1.9"/><circle cx="394.67" cy="381.50" r="1.9"/><circle cx="394.67" cy="383.50" r="1.9"/><circle cx="394.67" cy="385.50" r="1.9"/><circle cx="394.67" cy="387.50" r="1.9"/><circle cx="394.67" cy="389.50" r="1.9"/><circle cx="394.67" cy="390.50" r="1.9"/><circle cx="400.00" cy="360.20" r="1.9"/><circle cx="400.00" cy="362.20" r="1.9"/><circle cx="400.00" cy="364.20" r="1.9"/><circle cx="400.00" cy="366.20" r="1.9"/><circle cx="400.00" cy="368.20" r="1.9"/><circle cx="400.00" cy="370.20" r="1.9"/><circle cx="400.00" cy="372.20" r="1.9"/><circle cx="400.00" cy="374.20" r="1.9"/><circle cx="400.00" cy="376.20" r="1.9"/><circle cx="400.00" cy="378.20" r="1.9"/><circle cx="400.00" cy="380.20" r="1.9"/><circle cx="400.00" cy="382.20" r="1.9"/><circle cx="400.00" cy="384.20" r="1.9"/><circle cx="400.00" cy="386.20" r="1.9"/><circle cx="400.00" cy="388.20" r="1.9"/><circle cx="400.00" cy="389.80" r="1.9"/><circle cx="405.32" cy="359.50" r="1.9"/><circle cx="405.32" cy="361.50" r="1.9"/><circle cx="405.32" cy="363.50" r="1.9"/><circle cx="405.32" cy="365.50" r="1.9"/><circle cx="405.32" cy="367.50" r="1.9"/><circle cx="405.32" cy="369.50" r="1.9"/><circle cx="405.32" cy="371.50" r="1.9"/><circle cx="405.32" cy="373.50" r="1.9"/><circle cx="405.32" cy="375.50" r="1.9"/><circle cx="405.32" cy="377.50" r="1.9"/><circle cx="405.32" cy="379.50" r="1.9"/><circle cx="405.32" cy="381.50" r="1.9"/><circle cx="405.32" cy="383.50" r="1.9"/><circle cx="405.32" cy="385.50" r="1.9"/><circle cx="405.32" cy="387.50" r="1.9"/><circle cx="405.32" cy="388.30" r="1.9"/><circle cx="410.65" cy="363.10" r="1.9"/><circle cx="410.65" cy="365.10" r="1.9"/><circle cx="410.65" cy="367.10" r="1.9"/><circle cx="410.65" cy="369.10" r="1.9"/><circle cx="410.65" cy="371.10" r="1.9"/><circle cx="410.65" cy="373.10" r="1.9"/><circle cx="410.65" cy="375.10" r="1.9"/><circle cx="410.65" cy="377.10" r="1.9"/><circle cx="410.65" cy="379.10" r="1.9"/><circle cx="410.65" cy="381.10" r="1.9"/><circle cx="410.65" cy="383.10" r="1.9"/><circle cx="410.65" cy="385.10" r="1.9"/><circle cx="410.65" cy="387.10" r="1.9"/><circle cx="410.65" cy="387.90" r="1.9"/><circle cx="415.99" cy="362.50" r="1.9"/><circle cx="415.99" cy="364.50" r="1.9"/><circle cx="415.99" cy="366.50" r="1.9"/><circle cx="415.99" cy="368.50" r="1.9"/><circle cx="415.99" cy="370.50" r="1.9"/><circle cx="415.99" cy="372.50" r="1.9"/><circle cx="415.99" cy="374.50" r="1.9"/><circle cx="415.99" cy="376.50" r="1.9"/><circle cx="415.99" cy="378.50" r="1.9"/><circle cx="415.99" cy="380.50" r="1.9"/><circle cx="415.99" cy="382.50" r="1.9"/><circle cx="415.99" cy="384.50" r="1.9"/><circle cx="415.99" cy="386.50" r="1.9"/><circle cx="415.99" cy="387.60" r="1.9"/><circle cx="421.31" cy="362.10" r="1.9"/><circle cx="421.31" cy="364.10" r="1.9"/><circle cx="421.31" cy="366.10" r="1.9"/><circle cx="421.31" cy="368.10" r="1.9"/><circle cx="421.31" cy="370.10" r="1.9"/><circle cx="421.31" cy="372.10" r="1.9"/><circle cx="421.31" cy="374.10" r="1.9"/><circle cx="421.31" cy="376.10" r="1.9"/><circle cx="421.31" cy="378.10" r="1.9"/><circle cx="421.31" cy="380.10" r="1.9"/><circle cx="421.31" cy="382.10" r="1.9"/><circle cx="421.31" cy="384.10" r="1.9"/><circle cx="421.31" cy="386.10" r="1.9"/><circle cx="421.31" cy="387.20" r="1.9"/><circle cx="362.80" cy="363.50" r="1.9"/><circle cx="368.11" cy="363.50" r="1.9"/><circle cx="373.42" cy="363.50" r="1.9"/><circle cx="378.73" cy="363.50" r="1.9"/><circle cx="384.04" cy="363.50" r="1.9"/><circle cx="389.35" cy="363.50" r="1.9"/><circle cx="394.65" cy="363.50" r="1.9"/><circle cx="399.96" cy="363.50" r="1.9"/><circle cx="405.27" cy="363.50" r="1.9"/><circle cx="410.58" cy="363.50" r="1.9"/><circle cx="415.89" cy="363.50" r="1.9"/><circle cx="421.20" cy="363.50" r="1.9"/><circle cx="365.47" cy="365.00" r="1.9"/><circle cx="370.77" cy="365.00" r="1.9"/><circle cx="376.08" cy="365.00" r="1.9"/><circle cx="381.39" cy="365.00" r="1.9"/><circle cx="386.69" cy="365.00" r="1.9"/><circle cx="392.00" cy="365.00" r="1.9"/><circle cx="397.31" cy="365.00" r="1.9"/><circle cx="402.61" cy="365.00" r="1.9"/><circle cx="407.92" cy="365.00" r="1.9"/><circle cx="413.23" cy="365.00" r="1.9"/><circle cx="418.53" cy="365.00" r="1.9"/><circle cx="362.80" cy="366.50" r="1.9"/><circle cx="368.11" cy="366.50" r="1.9"/><circle cx="373.42" cy="366.50" r="1.9"/><circle cx="378.73" cy="366.50" r="1.9"/><circle cx="384.04" cy="366.50" r="1.9"/><circle cx="389.35" cy="366.50" r="1.9"/><circle cx="394.65" cy="366.50" r="1.9"/><circle cx="399.96" cy="366.50" r="1.9"/><circle cx="405.27" cy="366.50" r="1.9"/><circle cx="410.58" cy="366.50" r="1.9"/><circle cx="415.89" cy="366.50" r="1.9"/><circle cx="421.20" cy="366.50" r="1.9"/><circle cx="365.47" cy="368.00" r="1.9"/><circle cx="370.77" cy="368.00" r="1.9"/><circle cx="376.08" cy="368.00" r="1.9"/><circle cx="381.39" cy="368.00" r="1.9"/><circle cx="386.69" cy="368.00" r="1.9"/><circle cx="392.00" cy="368.00" r="1.9"/><circle cx="397.31" cy="368.00" r="1.9"/><circle cx="402.61" cy="368.00" r="1.9"/><circle cx="407.92" cy="368.00" r="1.9"/><circle cx="413.23" cy="368.00" r="1.9"/><circle cx="418.53" cy="368.00" r="1.9"/><circle cx="362.80" cy="369.50" r="1.9"/><circle cx="368.11" cy="369.50" r="1.9"/><circle cx="373.42" cy="369.50" r="1.9"/><circle cx="378.73" cy="369.50" r="1.9"/><circle cx="384.04" cy="369.50" r="1.9"/><circle cx="389.35" cy="369.50" r="1.9"/><circle cx="394.65" cy="369.50" r="1.9"/><circle cx="399.96" cy="369.50" r="1.9"/><circle cx="405.27" cy="369.50" r="1.9"/><circle cx="410.58" cy="369.50" r="1.9"/><circle cx="415.89" cy="369.50" r="1.9"/><circle cx="421.20" cy="369.50" r="1.9"/><circle cx="365.47" cy="371.00" r="1.9"/><circle cx="370.77" cy="371.00" r="1.9"/><circle cx="376.08" cy="371.00" r="1.9"/><circle cx="381.39" cy="371.00" r="1.9"/><circle cx="386.69" cy="371.00" r="1.9"/><circle cx="392.00" cy="371.00" r="1.9"/><circle cx="397.31" cy="371.00" r="1.9"/><circle cx="402.61" cy="371.00" r="1.9"/><circle cx="407.92" cy="371.00" r="1.9"/><circle cx="413.23" cy="371.00" r="1.9"/><circle cx="418.53" cy="371.00" r="1.9"/><circle cx="362.80" cy="372.50" r="1.9"/><circle cx="368.11" cy="372.50" r="1.9"/><circle cx="373.42" cy="372.50" r="1.9"/><circle cx="378.73" cy="372.50" r="1.9"/><circle cx="384.04" cy="372.50" r="1.9"/><circle cx="389.35" cy="372.50" r="1.9"/><circle cx="394.65" cy="372.50" r="1.9"/><circle cx="399.96" cy="372.50" r="1.9"/><circle cx="405.27" cy="372.50" r="1.9"/><circle cx="410.58" cy="372.50" r="1.9"/><circle cx="415.89" cy="372.50" r="1.9"/><circle cx="421.20" cy="372.50" r="1.9"/><circle cx="365.47" cy="374.00" r="1.9"/><circle cx="370.77" cy="374.00" r="1.9"/><circle cx="376.08" cy="374.00" r="1.9"/><circle cx="381.39" cy="374.00" r="1.9"/><circle cx="386.69" cy="374.00" r="1.9"/><circle cx="392.00" cy="374.00" r="1.9"/><circle cx="397.31" cy="374.00" r="1.9"/><circle cx="402.61" cy="374.00" r="1.9"/><circle cx="407.92" cy="374.00" r="1.9"/><circle cx="413.23" cy="374.00" r="1.9"/><circle cx="418.53" cy="374.00" r="1.9"/><circle cx="362.80" cy="375.50" r="1.9"/><circle cx="368.11" cy="375.50" r="1.9"/><circle cx="373.42" cy="375.50" r="1.9"/><circle cx="378.73" cy="375.50" r="1.9"/><circle cx="384.04" cy="375.50" r="1.9"/><circle cx="389.35" cy="375.50" r="1.9"/><circle cx="394.65" cy="375.50" r="1.9"/><circle cx="399.96" cy="375.50" r="1.9"/><circle cx="405.27" cy="375.50" r="1.9"/><circle cx="410.58" cy="375.50" r="1.9"/><circle cx="415.89" cy="375.50" r="1.9"/><circle cx="421.20" cy="375.50" r="1.9"/><circle cx="365.47" cy="377.00" r="1.9"/><circle cx="370.77" cy="377.00" r="1.9"/><circle cx="376.08" cy="377.00" r="1.9"/><circle cx="381.39" cy="377.00" r="1.9"/><circle cx="386.69" cy="377.00" r="1.9"/><circle cx="392.00" cy="377.00" r="1.9"/><circle cx="397.31" cy="377.00" r="1.9"/><circle cx="402.61" cy="377.00" r="1.9"/><circle cx="407.92" cy="377.00" r="1.9"/><circle cx="413.23" cy="377.00" r="1.9"/><circle cx="418.53" cy="377.00" r="1.9"/><circle cx="362.80" cy="378.50" r="1.9"/><circle cx="368.11" cy="378.50" r="1.9"/><circle cx="373.42" cy="378.50" r="1.9"/><circle cx="378.73" cy="378.50" r="1.9"/><circle cx="384.04" cy="378.50" r="1.9"/><circle cx="389.35" cy="378.50" r="1.9"/><circle cx="394.65" cy="378.50" r="1.9"/><circle cx="399.96" cy="378.50" r="1.9"/><circle cx="405.27" cy="378.50" r="1.9"/><circle cx="410.58" cy="378.50" r="1.9"/><circle cx="415.89" cy="378.50" r="1.9"/><circle cx="421.20" cy="378.50" r="1.9"/><circle cx="365.47" cy="380.00" r="1.9"/><circle cx="370.77" cy="380.00" r="1.9"/><circle cx="376.08" cy="380.00" r="1.9"/><circle cx="381.39" cy="380.00" r="1.9"/><circle cx="386.69" cy="380.00" r="1.9"/><circle cx="392.00" cy="380.00" r="1.9"/><circle cx="397.31" cy="380.00" r="1.9"/><circle cx="402.61" cy="380.00" r="1.9"/><circle cx="407.92" cy="380.00" r="1.9"/><circle cx="413.23" cy="380.00" r="1.9"/><circle cx="418.53" cy="380.00" r="1.9"/><circle cx="362.80" cy="381.50" r="1.9"/><circle cx="368.11" cy="381.50" r="1.9"/><circle cx="373.42" cy="381.50" r="1.9"/><circle cx="378.73" cy="381.50" r="1.9"/><circle cx="384.04" cy="381.50" r="1.9"/><circle cx="389.35" cy="381.50" r="1.9"/><circle cx="394.65" cy="381.50" r="1.9"/><circle cx="399.96" cy="381.50" r="1.9"/><circle cx="405.27" cy="381.50" r="1.9"/><circle cx="410.58" cy="381.50" r="1.9"/><circle cx="415.89" cy="381.50" r="1.9"/><circle cx="421.20" cy="381.50" r="1.9"/><circle cx="362.50" cy="391.30" r="1.9"/><circle cx="367.80" cy="392.40" r="1.9"/><circle cx="373.10" cy="393.30" r="1.9"/><circle cx="378.50" cy="393.80" r="1.9"/><circle cx="383.80" cy="393.80" r="1.9"/><circle cx="383.80" cy="397.10" r="1.9"/><circle cx="383.80" cy="403.00" r="1.9"/><circle cx="389.10" cy="394.80" r="1.9"/><circle cx="389.40" cy="401.80" r="1.9"/><circle cx="389.40" cy="407.00" r="1.9"/><circle cx="394.60" cy="394.90" r="1.9"/><circle cx="394.60" cy="397.50" r="1.9"/><circle cx="399.90" cy="394.20" r="1.9"/><circle cx="399.90" cy="396.80" r="1.9"/><circle cx="405.30" cy="393.80" r="1.9"/><circle cx="410.60" cy="393.80" r="1.9"/><circle cx="416.10" cy="392.40" r="1.9"/><circle cx="421.50" cy="391.30" r="1.9"/><circle cx="394.60" cy="407.80" r="1.9"/><circle cx="399.90" cy="406.40" r="1.9"/><circle cx="391.60" cy="416.50" r="1.9"/></g>
<g fill="#fff" stroke="#fff" stroke-width="0.9"><path d="M364.20 370.50L366.80 364.50"/><path d="M369.50 370.50L372.10 364.50"/><path d="M374.80 370.50L377.40 364.50"/><path d="M380.10 370.50L382.70 364.50"/><path d="M385.40 370.50L388.00 364.50"/><path d="M393.30 370.50L390.70 364.50"/><path d="M398.60 370.50L396.00 364.50"/><path d="M403.90 370.50L401.30 364.50"/><path d="M409.20 370.50L406.60 364.50"/><path d="M414.50 370.50L411.90 364.50"/><path d="M419.80 370.50L417.20 364.50"/><rect x="365.00" y="373.20" width="1.0" height="1.2"/><rect x="370.30" y="373.20" width="1.0" height="1.2"/><rect x="375.60" y="373.20" width="1.0" height="1.2"/><rect x="380.90" y="373.20" width="1.0" height="1.2"/><rect x="386.20" y="373.20" width="1.0" height="1.2"/><rect x="391.50" y="373.20" width="1.0" height="1.2"/><rect x="396.80" y="373.20" width="1.0" height="1.2"/><rect x="402.10" y="373.20" width="1.0" height="1.2"/><rect x="407.40" y="373.20" width="1.0" height="1.2"/><rect x="412.70" y="373.20" width="1.0" height="1.2"/><rect x="418.00" y="373.20" width="1.0" height="1.2"/><path d="M364.72 385.30L366.28 381.70"/><path d="M370.02 385.30L371.58 381.70"/><path d="M375.32 385.30L376.88 381.70"/><path d="M380.62 385.30L382.18 381.70"/><path d="M385.92 385.30L387.48 381.70"/><path d="M392.78 385.30L391.22 381.70"/><path d="M398.08 385.30L396.52 381.70"/><path d="M403.38 385.30L401.82 381.70"/><path d="M408.68 385.30L407.12 381.70"/><path d="M413.98 385.30L412.42 381.70"/><path d="M419.28 385.30L417.72 381.70"/></g>
<g fill="#ff0000"><circle cx="492.50" cy="348.50" r="1.9"/><circle cx="492.50" cy="358.00" r="1.9"/><circle cx="484.50" cy="359.30" r="1.9"/><circle cx="500.50" cy="361.00" r="1.9"/><circle cx="489.80" cy="362.10" r="1.9"/><circle cx="495.20" cy="364.30" r="1.9"/><circle cx="471.00" cy="365.40" r="1.9"/><circle cx="471.00" cy="369.10" r="1.9"/><circle cx="465.70" cy="368.60" r="1.9"/><circle cx="476.30" cy="367.30" r="1.9"/><circle cx="476.30" cy="370.10" r="1.9"/><circle cx="481.60" cy="367.60" r="1.9"/><circle cx="481.60" cy="370.80" r="1.9"/><circle cx="486.80" cy="367.60" r="1.9"/><circle cx="486.80" cy="370.80" r="1.9"/><circle cx="492.50" cy="367.90" r="1.9"/><circle cx="492.50" cy="371.10" r="1.9"/><circle cx="497.90" cy="367.90" r="1.9"/><circle cx="497.90" cy="370.80" r="1.9"/><circle cx="503.10" cy="367.50" r="1.9"/><circle cx="503.10" cy="370.10" r="1.9"/><circle cx="508.70" cy="366.90" r="1.9"/><circle cx="508.70" cy="369.50" r="1.9"/><circle cx="513.90" cy="368.80" r="1.9"/><circle cx="519.30" cy="368.70" r="1.9"/><circle cx="462.90" cy="372.80" r="1.9"/><circle cx="468.30" cy="373.70" r="1.9"/><circle cx="473.80" cy="373.90" r="1.9"/><circle cx="479.00" cy="374.80" r="1.9"/><circle cx="484.30" cy="375.10" r="1.9"/><circle cx="489.50" cy="375.10" r="1.9"/><circle cx="495.20" cy="375.40" r="1.9"/><circle cx="500.50" cy="375.00" r="1.9"/><circle cx="505.70" cy="374.70" r="1.9"/><circle cx="511.30" cy="374.10" r="1.9"/><circle cx="516.80" cy="373.40" r="1.9"/><circle cx="522.10" cy="373.40" r="1.9"/><circle cx="465.60" cy="377.00" r="1.9"/><circle cx="471.00" cy="377.30" r="1.9"/><circle cx="513.90" cy="376.60" r="1.9"/><circle cx="519.50" cy="376.60" r="1.9"/><circle cx="476.30" cy="377.80" r="1.9"/><circle cx="481.60" cy="377.80" r="1.9"/><circle cx="486.80" cy="377.80" r="1.9"/><circle cx="492.40" cy="377.80" r="1.9"/><circle cx="497.90" cy="377.80" r="1.9"/><circle cx="503.10" cy="377.80" r="1.9"/><circle cx="508.40" cy="377.80" r="1.9"/><circle cx="462.90" cy="380.40" r="1.9"/><circle cx="468.20" cy="380.40" r="1.9"/><circle cx="473.80" cy="380.40" r="1.9"/><circle cx="511.60" cy="380.50" r="1.9"/><circle cx="516.50" cy="380.50" r="1.9"/><circle cx="522.10" cy="380.50" r="1.9"/><circle cx="476.30" cy="380.20" r="1.9"/><circle cx="481.60" cy="380.20" r="1.9"/><circle cx="486.80" cy="380.20" r="1.9"/><circle cx="492.40" cy="380.20" r="1.9"/><circle cx="497.90" cy="380.20" r="1.9"/><circle cx="503.10" cy="380.20" r="1.9"/><circle cx="508.40" cy="380.20" r="1.9"/><circle cx="475.70" cy="382.50" r="1.9"/><circle cx="481.60" cy="382.50" r="1.9"/><circle cx="486.80" cy="382.50" r="1.9"/><circle cx="492.40" cy="382.50" r="1.9"/><circle cx="497.90" cy="382.20" r="1.9"/><circle cx="503.10" cy="382.20" r="1.9"/><circle cx="465.50" cy="385.10" r="1.9"/><circle cx="470.80" cy="385.80" r="1.9"/><circle cx="476.30" cy="385.80" r="1.9"/><circle cx="481.60" cy="386.80" r="1.9"/><circle cx="486.80" cy="387.10" r="1.9"/><circle cx="492.50" cy="387.50" r="1.9"/><circle cx="497.90" cy="386.80" r="1.9"/><circle cx="503.10" cy="386.10" r="1.9"/><circle cx="508.70" cy="385.80" r="1.9"/><circle cx="513.90" cy="385.80" r="1.9"/><circle cx="519.30" cy="384.50" r="1.9"/><circle cx="473.70" cy="389.40" r="1.9"/><circle cx="478.90" cy="390.70" r="1.9"/><circle cx="484.50" cy="391.30" r="1.9"/><circle cx="500.50" cy="391.00" r="1.9"/><circle cx="506.00" cy="390.00" r="1.9"/><circle cx="511.30" cy="389.10" r="1.9"/><circle cx="489.70" cy="393.30" r="1.9"/><circle cx="495.20" cy="393.00" r="1.9"/><circle cx="484.50" cy="395.30" r="1.9"/><circle cx="489.90" cy="398.30" r="1.9"/><circle cx="495.20" cy="399.50" r="1.9"/><circle cx="500.50" cy="397.90" r="1.9"/><circle cx="484.50" cy="405.40" r="1.9"/><circle cx="489.90" cy="407.40" r="1.9"/><circle cx="495.20" cy="406.10" r="1.9"/><circle cx="500.50" cy="404.40" r="1.9"/></g>
<path d="M79.5 83.7H147.9" stroke="#000" stroke-width="1.6"/>
<path d="M96 83.7H131" stroke="#000" stroke-width="2.2"/>
<path d="M358 82.5H426" stroke="#000" stroke-width="1.6"/>
<path d="M375 82.5H409.5" stroke="#000" stroke-width="2.2"/>
<path d="M458.5 80.9H526" stroke="#000" stroke-width="1.6"/>
<path d="M475 80.9H510" stroke="#000" stroke-width="2.2"/>
<path d="M180 80.8H248.7" stroke="#000" stroke-width="1.6"/>
<path d="M197 80.8H231" stroke="#000" stroke-width="2.2"/>
<path d="M79.4 377.3H148" stroke="#000" stroke-width="1.6"/>
<path d="M96 377.3H131" stroke="#000" stroke-width="2.2"/>
<path d="M179.9 377.6H248.4" stroke="#000" stroke-width="1.6"/>
<path d="M197 377.6H231" stroke="#000" stroke-width="2.2"/>
<path d="M358 378.1H426" stroke="#000" stroke-width="1.6"/>
<path d="M375 378.1H409.5" stroke="#000" stroke-width="2.2"/>
<path d="M458.5 378.9H526" stroke="#000" stroke-width="1.6"/>
<path d="M475.6 378.9H509.8" stroke="#000" stroke-width="3.8"/>
<path d="M63.5 34.1V203.0M62.5 202.0H265.0" stroke="#000" stroke-width="2" fill="none"/>
<path d="M57.7 202.00H63.5" stroke="#000" stroke-width="2"/>
<text class="tk" transform="translate(56.30 207.90) scale(1.0 1.05)" text-anchor="end" font-size="14.0">0</text>
<path d="M57.7 160.28H63.5" stroke="#000" stroke-width="2"/>
<text class="tk" transform="translate(56.30 166.18) scale(1.0 1.05)" text-anchor="end" font-size="14.0">5</text>
<path d="M57.7 118.55H63.5" stroke="#000" stroke-width="2"/>
<text class="tk" transform="translate(56.30 124.45) scale(1.0 1.05)" text-anchor="end" font-size="14.0">10</text>
<path d="M57.7 76.82H63.5" stroke="#000" stroke-width="2"/>
<text class="tk" transform="translate(56.30 82.72) scale(1.0 1.05)" text-anchor="end" font-size="14.0">15</text>
<path d="M57.7 35.10H63.5" stroke="#000" stroke-width="2"/>
<text class="tk" transform="translate(56.30 41.00) scale(1.0 1.05)" text-anchor="end" font-size="14.0">20</text>
<path d="M113.70 202.0V207.6" stroke="#000" stroke-width="2"/>
<text class="xl" transform="translate(113.70 219.80) scale(1.0 1.07)" text-anchor="middle" font-size="13.5">Living</text>
<text class="nl" transform="translate(113.10 244.50)" text-anchor="middle" font-size="14.5">(<tspan font-style="italic">n</tspan> = 319)</text>
<path d="M214.20 202.0V207.6" stroke="#000" stroke-width="2"/>
<text class="xl" transform="translate(214.20 219.80) scale(1.0 1.07)" text-anchor="middle" font-size="13.5">Dead</text>
<text class="nl" transform="translate(216.00 244.50)" text-anchor="middle" font-size="14.5">(<tspan font-style="italic">n</tspan> = 183)</text>
<text transform="translate(17.9 117.95) rotate(-90)" class="yl" text-anchor="middle" font-size="14.0"><tspan font-style="italic">KRT8</tspan> expression</text>
<text transform="translate(34.1 118.35) rotate(-90)" class="yl" text-anchor="middle" font-size="13.55">log2 (norm_count+1)</text>
<path d="M107.2 36.1V31.0H215.4V36.1" stroke="#000" stroke-width="2" fill="none" stroke-linecap="round"/>
<text class="pv" transform="translate(167.30 21.60) scale(1.0 1.04)" text-anchor="middle" font-size="12.6"><tspan font-style="italic">p</tspan> < 0.0001</text>
<text class="pl" transform="translate(4.00 14.70)" text-anchor="start" font-size="14.5">a</text>
<path d="M341.9 33.4V201.9M340.9 200.9H543.4" stroke="#000" stroke-width="2" fill="none"/>
<path d="M336.09999999999997 200.90H341.9" stroke="#000" stroke-width="2"/>
<text class="tk" transform="translate(334.70 206.80) scale(1.0 1.05)" text-anchor="end" font-size="14.0">0</text>
<path d="M336.09999999999997 159.28H341.9" stroke="#000" stroke-width="2"/>
<text class="tk" transform="translate(334.70 165.18) scale(1.0 1.05)" text-anchor="end" font-size="14.0">5</text>
<path d="M336.09999999999997 117.65H341.9" stroke="#000" stroke-width="2"/>
<text class="tk" transform="translate(334.70 123.55) scale(1.0 1.05)" text-anchor="end" font-size="14.0">10</text>
<path d="M336.09999999999997 76.03H341.9" stroke="#000" stroke-width="2"/>
<text class="tk" transform="translate(334.70 81.93) scale(1.0 1.05)" text-anchor="end" font-size="14.0">15</text>
<path d="M336.09999999999997 34.40H341.9" stroke="#000" stroke-width="2"/>
<text class="tk" transform="translate(334.70 40.30) scale(1.0 1.05)" text-anchor="end" font-size="14.0">20</text>
<path d="M392.10 200.9V206.5" stroke="#000" stroke-width="2"/>
<text class="xl" transform="translate(392.10 219.30) scale(1.0 1.07)" text-anchor="middle" font-size="13.5">No Recurrence</text>
<text class="nl" transform="translate(392.30 244.50)" text-anchor="middle" font-size="14.5">(<tspan font-style="italic">n</tspan> = 275)</text>
<path d="M492.60 200.9V206.5" stroke="#000" stroke-width="2"/>
<text class="xl" transform="translate(492.60 219.30) scale(1.0 1.07)" text-anchor="middle" font-size="13.5">Recurrence</text>
<text class="nl" transform="translate(491.50 244.50)" text-anchor="middle" font-size="14.5">(<tspan font-style="italic">n</tspan> = 151)</text>
<text transform="translate(297.3 117.05) rotate(-90)" class="yl" text-anchor="middle" font-size="14.0"><tspan font-style="italic">KRT8</tspan> expression</text>
<text transform="translate(312.6 117.45) rotate(-90)" class="yl" text-anchor="middle" font-size="13.55">log2 (norm_count+1)</text>
<path d="M385.7 35.1V29.95H493.9V35.1" stroke="#000" stroke-width="2" fill="none" stroke-linecap="round"/>
<text class="pv" transform="translate(445.80 20.50) scale(1.0 1.04)" text-anchor="middle" font-size="12.6"><tspan font-style="italic">p</tspan> = 0.0361</text>
<text class="pl" transform="translate(282.50 14.70)" text-anchor="start" font-size="14.5">b</text>
<path d="M63.7 323.8V492.0M62.7 491.0H265.2" stroke="#000" stroke-width="2" fill="none"/>
<path d="M57.900000000000006 491.00H63.7" stroke="#000" stroke-width="2"/>
<text class="tk" transform="translate(56.50 496.90) scale(1.0 1.05)" text-anchor="end" font-size="14.0">0</text>
<path d="M57.900000000000006 449.45H63.7" stroke="#000" stroke-width="2"/>
<text class="tk" transform="translate(56.50 455.35) scale(1.0 1.05)" text-anchor="end" font-size="14.0">5</text>
<path d="M57.900000000000006 407.90H63.7" stroke="#000" stroke-width="2"/>
<text class="tk" transform="translate(56.50 413.80) scale(1.0 1.05)" text-anchor="end" font-size="14.0">10</text>
<path d="M57.900000000000006 366.35H63.7" stroke="#000" stroke-width="2"/>
<text class="tk" transform="translate(56.50 372.25) scale(1.0 1.05)" text-anchor="end" font-size="14.0">15</text>
<path d="M57.900000000000006 324.80H63.7" stroke="#000" stroke-width="2"/>
<text class="tk" transform="translate(56.50 330.70) scale(1.0 1.05)" text-anchor="end" font-size="14.0">20</text>
<path d="M113.90 491.0V496.6" stroke="#000" stroke-width="2"/>
<text class="xl" transform="translate(113.90 508.80) scale(1.0 1.07)" text-anchor="middle" font-size="13.5">Living</text>
<text class="nl" transform="translate(113.10 534.40)" text-anchor="middle" font-size="14.5">(<tspan font-style="italic">n</tspan> = 282)</text>
<path d="M214.40 491.0V496.6" stroke="#000" stroke-width="2"/>
<text class="xl" transform="translate(214.40 508.80) scale(1.0 1.07)" text-anchor="middle" font-size="13.5">Dead</text>
<text class="nl" transform="translate(215.90 534.40)" text-anchor="middle" font-size="14.5">(<tspan font-style="italic">n</tspan> = 212)</text>
<text transform="translate(18.5 407.30) rotate(-90)" class="yl" text-anchor="middle" font-size="14.0"><tspan font-style="italic">KRT8</tspan> expression</text>
<text transform="translate(34.3 407.70) rotate(-90)" class="yl" text-anchor="middle" font-size="13.55">log2 (norm_count+1)</text>
<path d="M107.0 325.5V319.95H215.2V325.5" stroke="#000" stroke-width="2" fill="none" stroke-linecap="round"/>
<text class="pv" transform="translate(167.50 311.10) scale(1.0 1.04)" text-anchor="middle" font-size="12.6"><tspan font-style="italic">p</tspan> = 0.6798</text>
<text class="pl" transform="translate(4.00 296.60)" text-anchor="start" font-size="14.5">c</text>
<path d="M341.9 324.7V492.9M340.9 491.9H543.4" stroke="#000" stroke-width="2" fill="none"/>
<path d="M336.09999999999997 491.90H341.9" stroke="#000" stroke-width="2"/>
<text class="tk" transform="translate(334.70 497.80) scale(1.0 1.05)" text-anchor="end" font-size="14.0">0</text>
<path d="M336.09999999999997 450.35H341.9" stroke="#000" stroke-width="2"/>
<text class="tk" transform="translate(334.70 456.25) scale(1.0 1.05)" text-anchor="end" font-size="14.0">5</text>
<path d="M336.09999999999997 408.80H341.9" stroke="#000" stroke-width="2"/>
<text class="tk" transform="translate(334.70 414.70) scale(1.0 1.05)" text-anchor="end" font-size="14.0">10</text>
<path d="M336.09999999999997 367.25H341.9" stroke="#000" stroke-width="2"/>
<text class="tk" transform="translate(334.70 373.15) scale(1.0 1.05)" text-anchor="end" font-size="14.0">15</text>
<path d="M336.09999999999997 325.70H341.9" stroke="#000" stroke-width="2"/>
<text class="tk" transform="translate(334.70 331.60) scale(1.0 1.05)" text-anchor="end" font-size="14.0">20</text>
<path d="M392.10 491.9V497.5" stroke="#000" stroke-width="2"/>
<text class="xl" transform="translate(392.10 510.00) scale(1.0 1.07)" text-anchor="middle" font-size="13.5">No Recurrence</text>
<text class="nl" transform="translate(386.00 534.30)" text-anchor="middle" font-size="14.5">(<tspan font-style="italic">n</tspan> = 286)</text>
<path d="M492.60 491.9V497.5" stroke="#000" stroke-width="2"/>
<text class="xl" transform="translate(492.60 510.00) scale(1.0 1.07)" text-anchor="middle" font-size="13.5">Recurrence</text>
<text class="nl" transform="translate(491.60 534.30)" text-anchor="middle" font-size="14.5">(<tspan font-style="italic">n</tspan> = 100)</text>
<text transform="translate(298.1 408.20) rotate(-90)" class="yl" text-anchor="middle" font-size="14.0"><tspan font-style="italic">KRT8</tspan> expression</text>
<text transform="translate(312.7 408.60) rotate(-90)" class="yl" text-anchor="middle" font-size="13.55">log2 (norm_count+1)</text>
<path d="M385.6 326.7V321.1H493.9V326.7" stroke="#000" stroke-width="2" fill="none" stroke-linecap="round"/>
<text class="pv" transform="translate(445.80 311.80) scale(1.0 1.04)" text-anchor="middle" font-size="12.6"><tspan font-style="italic">p</tspan> = 0.5428</text>
<text class="pl" transform="translate(274.00 296.50)" text-anchor="start" font-size="14.5">d</text>
</svg>
</body></html>
